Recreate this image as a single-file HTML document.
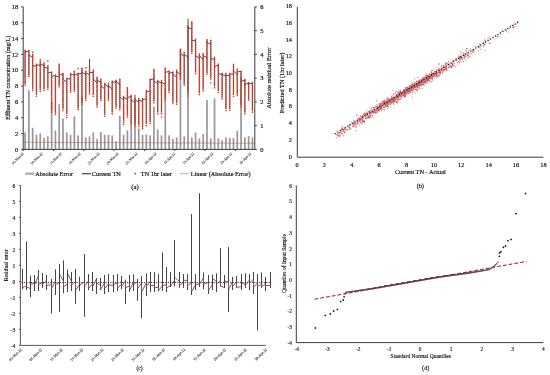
<!DOCTYPE html>
<html lang="en">
<head>
<meta charset="utf-8">
<title>TN prediction figure</title>
<style>
html,body{margin:0;padding:0;background:#fff;}
body{width:550px;height:375px;overflow:hidden;font-family:"Liberation Serif",serif;}
svg{display:block;}
</style>
</head>
<body>
<svg width="550" height="375" viewBox="0 0 550 375">
<rect x="0" y="0" width="550" height="375" fill="#ffffff"/>
<g id="pa">
<rect x="24.24" y="132.4" width="1.7" height="17" fill="#979797"/>
<rect x="28.03" y="90.26" width="1.7" height="59.14" fill="#979797"/>
<rect x="31.82" y="127.8" width="1.7" height="21.6" fill="#979797"/>
<rect x="35.61" y="134.8" width="1.7" height="14.6" fill="#979797"/>
<rect x="39.4" y="133.4" width="1.7" height="16" fill="#979797"/>
<rect x="43.19" y="138" width="1.7" height="11.4" fill="#979797"/>
<rect x="46.98" y="136.4" width="1.7" height="13" fill="#979797"/>
<rect x="50.77" y="101.9" width="1.7" height="47.5" fill="#979797"/>
<rect x="54.56" y="130.4" width="1.7" height="19" fill="#979797"/>
<rect x="58.35" y="104.28" width="1.7" height="45.12" fill="#979797"/>
<rect x="62.13" y="118.53" width="1.7" height="30.88" fill="#979797"/>
<rect x="65.92" y="132.4" width="1.7" height="17" fill="#979797"/>
<rect x="69.71" y="134.8" width="1.7" height="14.6" fill="#979797"/>
<rect x="73.5" y="116.39" width="1.7" height="33.01" fill="#979797"/>
<rect x="77.29" y="135.4" width="1.7" height="14" fill="#979797"/>
<rect x="81.08" y="97.15" width="1.7" height="52.25" fill="#979797"/>
<rect x="84.87" y="137.4" width="1.7" height="12" fill="#979797"/>
<rect x="88.66" y="136.4" width="1.7" height="13" fill="#979797"/>
<rect x="92.45" y="132.4" width="1.7" height="17" fill="#979797"/>
<rect x="96.24" y="138.8" width="1.7" height="10.6" fill="#979797"/>
<rect x="100.02" y="132" width="1.7" height="17.4" fill="#979797"/>
<rect x="103.81" y="134.8" width="1.7" height="14.6" fill="#979797"/>
<rect x="107.6" y="134.8" width="1.7" height="14.6" fill="#979797"/>
<rect x="111.39" y="135.4" width="1.7" height="14" fill="#979797"/>
<rect x="115.18" y="141.4" width="1.7" height="8" fill="#979797"/>
<rect x="118.97" y="115.91" width="1.7" height="33.49" fill="#979797"/>
<rect x="122.76" y="134.8" width="1.7" height="14.6" fill="#979797"/>
<rect x="126.55" y="130.4" width="1.7" height="19" fill="#979797"/>
<rect x="130.34" y="120.9" width="1.7" height="28.5" fill="#979797"/>
<rect x="134.13" y="94.78" width="1.7" height="54.62" fill="#979797"/>
<rect x="137.91" y="128.4" width="1.7" height="21" fill="#979797"/>
<rect x="141.7" y="134.8" width="1.7" height="14.6" fill="#979797"/>
<rect x="145.49" y="134.4" width="1.7" height="15" fill="#979797"/>
<rect x="149.28" y="135.4" width="1.7" height="14" fill="#979797"/>
<rect x="153.07" y="106.65" width="1.7" height="42.75" fill="#979797"/>
<rect x="156.86" y="129.4" width="1.7" height="20" fill="#979797"/>
<rect x="160.65" y="135.4" width="1.7" height="14" fill="#979797"/>
<rect x="164.44" y="87.89" width="1.7" height="61.51" fill="#979797"/>
<rect x="168.23" y="135.4" width="1.7" height="14" fill="#979797"/>
<rect x="172.02" y="138.8" width="1.7" height="10.6" fill="#979797"/>
<rect x="175.8" y="137.4" width="1.7" height="12" fill="#979797"/>
<rect x="179.59" y="49.65" width="1.7" height="99.75" fill="#979797"/>
<rect x="183.38" y="136.4" width="1.7" height="13" fill="#979797"/>
<rect x="187.17" y="18.78" width="1.7" height="130.62" fill="#979797"/>
<rect x="190.96" y="137.4" width="1.7" height="12" fill="#979797"/>
<rect x="194.75" y="132.4" width="1.7" height="17" fill="#979797"/>
<rect x="198.54" y="138.4" width="1.7" height="11" fill="#979797"/>
<rect x="202.33" y="134" width="1.7" height="15.4" fill="#979797"/>
<rect x="206.12" y="100" width="1.7" height="49.4" fill="#979797"/>
<rect x="209.91" y="138.4" width="1.7" height="11" fill="#979797"/>
<rect x="213.69" y="98.57" width="1.7" height="50.83" fill="#979797"/>
<rect x="217.48" y="138.4" width="1.7" height="11" fill="#979797"/>
<rect x="221.27" y="140.4" width="1.7" height="9" fill="#979797"/>
<rect x="225.06" y="137.4" width="1.7" height="12" fill="#979797"/>
<rect x="228.85" y="138" width="1.7" height="11.4" fill="#979797"/>
<rect x="232.64" y="138" width="1.7" height="11.4" fill="#979797"/>
<rect x="236.43" y="130.8" width="1.7" height="18.6" fill="#979797"/>
<rect x="240.22" y="76.73" width="1.7" height="72.67" fill="#979797"/>
<rect x="244.01" y="137.4" width="1.7" height="12" fill="#979797"/>
<rect x="247.8" y="136" width="1.7" height="13.4" fill="#979797"/>
<rect x="251.58" y="137.4" width="1.7" height="12" fill="#979797"/>
<line x1="23.2" y1="142.28" x2="254.8" y2="143.22" stroke="#b5453f" stroke-width="0.45"/>
<path d="M25.09 50.44V83.53M28.88 50.84V75.28M32.67 54.4V88.62M36.46 64.3V94.76M40.25 61.84V90.12M44.04 63.11V89.06M47.83 65.88V88.07M51.62 72.29V110.2M55.41 75.3V112.6M59.2 64.3V85.73M62.98 73.4V108.75M66.77 78.31V113.51M70.56 73.4V91.15M74.35 71.26V90.29M78.14 73.4V108M81.93 68.25V102.47M85.72 71.26V98.86M89.51 59.15V92.64M93.3 70.23V95.05M97.09 77.36V105.19M100.87 79.34V99.27M104.66 83.38V114.51M108.45 83.38V99.47M112.24 81.32V112.15M116.03 80.53V106.85M119.82 79.34V108.29M123.61 96.36V121.18M127.4 87.65V115.48M131.19 95.57V122.19M134.98 98.73V124.3M138.76 98.73V125.06M142.55 98.73V127.31M146.34 90.42V123.89M150.13 79.34V121.38M153.92 69.44V101.03M157.71 80.53V112.11M161.5 80.53V112.11M165.29 68.25V98.71M169.08 71.26V91.34M172.87 72.29V101.92M176.65 70.23V102.57M180.44 49.25V77.46M184.23 52.42V83.63M188.02 25.9V92.46M191.81 21.94V52.03M195.6 39.36V71.7M199.39 54V92.44M203.18 53.61V88.96M206.97 39.75V72.47M210.76 40.55V77.02M214.54 57.57V86.15M218.33 64.3V90.99M222.12 73.4V97.47M225.91 73.4V108.75M229.7 73.4V108.37M233.49 64.38V94.76M237.28 69.44V94.26M241.07 71.42V104.89M244.86 79.42V112.06M248.65 82.42V99.42M252.43 82.42V110.7" stroke="#3c4c74" stroke-width="1.0" fill="none"/>
<path d="M25.09 51.87L28.88 50.84M28.88 55.09L32.67 57.46M32.67 65.98L36.46 65.93M36.46 64.84L40.25 65.42M40.25 64.56L44.04 65.25M44.04 67L47.83 68.46M47.83 72.8L51.62 72.29M51.62 76.7L55.41 75.3M55.41 75.77L59.2 77.12M59.2 74.65L62.98 74.8M62.98 78.84L66.77 82.81M66.77 78.88L70.56 78.8M70.56 74.64L74.35 74.89M74.35 75.43L78.14 73.5M78.14 74.04L81.93 73.19M81.93 72.1L85.72 74.65M85.72 72.9L89.51 74.81M89.51 72.5L93.3 72.62M93.3 78.9L97.09 83.11M97.09 80.52L100.87 81.95M100.87 85.7L104.66 88.99M104.66 83.86L108.45 87.48M108.45 85.47L112.24 89.45M112.24 82.29L116.03 81.77M116.03 81.21L119.82 84.74M119.82 96.99L123.61 99.77M123.61 97.36L127.4 99.24M127.4 97.58L131.19 96.41M131.19 99.49L134.98 103.33M134.98 100.28L138.76 101.79M138.76 100.39L142.55 101.27M142.55 99.87L146.34 98.63M146.34 91.9L150.13 91.07M150.13 79.86L153.92 78.74M153.92 81.04L157.71 83.63M157.71 81.33L161.5 83.05M161.5 82.27L165.29 84.35M165.29 72.5L169.08 71.26M169.08 73.31L172.87 72.29M172.87 73.85L176.65 77.24M176.65 71.53L180.44 74.76M180.44 53.41L184.23 56.3M184.23 54.39L188.02 57.27M188.02 27.68L191.81 28.96M191.81 40.24L195.6 40.86M195.6 55.54L199.39 58.23M199.39 55.44L203.18 59.77M203.18 55.74L206.97 57.44M206.97 42.39L210.76 44.4M210.76 58.53L214.54 59.3M214.54 66.63L218.33 64.95M218.33 74.03L222.12 74.01M222.12 74.62L225.91 75.71M225.91 75.29L229.7 75.74M229.7 74.1L233.49 74.17M233.49 70.81L237.28 74.82M237.28 71.89L241.07 71.42M241.07 81.14L244.86 80.55M244.86 84.33L248.65 83.15M248.65 83.95L252.43 83.26" stroke="#2a3a62" stroke-width="0.9" stroke-linecap="round" fill="none"/>
<path d="M25.09 50.44h0M25.09 52.49h0M25.09 54.54h0M25.09 56.59h0M25.09 58.64h0M25.09 60.69h0M25.09 62.74h0M25.09 64.78h0M25.09 66.83h0M25.09 68.88h0M25.09 70.93h0M25.09 72.98h0M25.09 75.03h0M25.09 77.08h0M25.09 79.13h0M25.09 81.18h0M25.09 83.23h0M25.09 85.28h0M28.88 50.84h0M28.88 52.98h0M28.88 55.13h0M28.88 57.27h0M28.88 59.41h0M28.88 61.56h0M28.88 63.7h0M28.88 65.85h0M28.88 67.99h0M28.88 70.13h0M28.88 72.28h0M28.88 74.42h0M28.88 76.57h0M32.67 54.4h0M32.67 56.4h0M32.67 58.4h0M32.67 60.4h0M32.67 62.4h0M32.67 64.41h0M32.67 66.41h0M32.67 68.41h0M32.67 70.41h0M32.67 72.41h0M32.67 74.41h0M32.67 76.41h0M32.67 78.41h0M32.67 80.42h0M32.67 82.42h0M32.67 84.42h0M32.67 86.42h0M32.67 88.42h0M32.67 90.42h0M32.67 52.2h0M36.46 64.3h0M36.46 66.3h0M36.46 68.3h0M36.46 70.31h0M36.46 72.31h0M36.46 74.32h0M36.46 76.32h0M36.46 78.32h0M36.46 80.33h0M36.46 82.33h0M36.46 84.33h0M36.46 86.34h0M36.46 88.34h0M36.46 90.35h0M36.46 92.35h0M36.46 94.35h0M36.46 96.36h0M40.25 61.84h0M40.25 63.97h0M40.25 66.09h0M40.25 68.22h0M40.25 70.35h0M40.25 72.47h0M40.25 74.6h0M40.25 76.73h0M40.25 78.85h0M40.25 80.98h0M40.25 83.1h0M40.25 85.23h0M40.25 87.36h0M40.25 89.48h0M40.25 91.61h0M40.25 59.84h0M44.04 63.11h0M44.04 65.21h0M44.04 67.31h0M44.04 69.41h0M44.04 71.51h0M44.04 73.61h0M44.04 75.71h0M44.04 77.82h0M44.04 79.92h0M44.04 82.02h0M44.04 84.12h0M44.04 86.22h0M44.04 88.32h0M44.04 90.42h0M47.83 65.88h0M47.83 68h0M47.83 70.13h0M47.83 72.25h0M47.83 74.37h0M47.83 76.49h0M47.83 78.62h0M47.83 80.74h0M47.83 82.86h0M47.83 84.99h0M47.83 87.11h0M47.83 89.23h0M47.83 61.26h0M51.62 72.29h0M51.62 74.39h0M51.62 76.49h0M51.62 78.59h0M51.62 80.69h0M51.62 82.79h0M51.62 84.89h0M51.62 86.99h0M51.62 89.09h0M51.62 91.19h0M51.62 93.29h0M51.62 95.39h0M51.62 97.49h0M51.62 99.59h0M51.62 101.69h0M51.62 103.79h0M51.62 105.89h0M51.62 107.99h0M51.62 110.09h0M51.62 112.19h0M55.41 75.3h0M55.41 77.37h0M55.41 79.43h0M55.41 81.5h0M55.41 83.57h0M55.41 85.63h0M55.41 87.7h0M55.41 89.77h0M55.41 91.83h0M55.41 93.9h0M55.41 95.97h0M55.41 98.03h0M55.41 100.1h0M55.41 102.17h0M55.41 104.23h0M55.41 106.3h0M55.41 108.37h0M55.41 110.43h0M55.41 112.5h0M55.41 114.57h0M59.2 64.3h0M59.2 66.35h0M59.2 68.4h0M59.2 70.45h0M59.2 72.5h0M59.2 74.55h0M59.2 76.6h0M59.2 78.65h0M59.2 80.7h0M59.2 82.76h0M59.2 84.81h0M59.2 86.86h0M62.98 73.4h0M62.98 75.47h0M62.98 77.53h0M62.98 79.6h0M62.98 81.67h0M62.98 83.74h0M62.98 85.8h0M62.98 87.87h0M62.98 89.94h0M62.98 92h0M62.98 94.07h0M62.98 96.14h0M62.98 98.21h0M62.98 100.27h0M62.98 102.34h0M62.98 104.41h0M62.98 106.47h0M62.98 108.54h0M62.98 110.61h0M66.77 78.31h0M66.77 80.37h0M66.77 82.43h0M66.77 84.48h0M66.77 86.54h0M66.77 88.6h0M66.77 90.66h0M66.77 92.72h0M66.77 94.78h0M66.77 96.83h0M66.77 98.89h0M66.77 100.95h0M66.77 103.01h0M66.77 105.07h0M66.77 107.13h0M66.77 109.18h0M66.77 111.24h0M66.77 113.3h0M66.77 115.36h0M66.77 117.56h0M70.56 73.4h0M70.56 75.48h0M70.56 77.55h0M70.56 79.63h0M70.56 81.7h0M70.56 83.78h0M70.56 85.86h0M70.56 87.93h0M70.56 90.01h0M70.56 92.08h0M74.35 71.26h0M74.35 73.27h0M74.35 75.27h0M74.35 77.27h0M74.35 79.27h0M74.35 81.28h0M74.35 83.28h0M74.35 85.28h0M74.35 87.29h0M74.35 89.29h0M74.35 91.29h0M78.14 73.4h0M78.14 75.42h0M78.14 77.45h0M78.14 79.47h0M78.14 81.49h0M78.14 83.52h0M78.14 85.54h0M78.14 87.56h0M78.14 89.59h0M78.14 91.61h0M78.14 93.63h0M78.14 95.65h0M78.14 97.68h0M78.14 99.7h0M78.14 101.72h0M78.14 103.75h0M78.14 105.77h0M78.14 107.79h0M78.14 109.82h0M78.14 68.55h0M81.93 68.25h0M81.93 70.26h0M81.93 72.26h0M81.93 74.26h0M81.93 76.26h0M81.93 78.26h0M81.93 80.26h0M81.93 82.26h0M81.93 84.26h0M81.93 86.26h0M81.93 88.27h0M81.93 90.27h0M81.93 92.27h0M81.93 94.27h0M81.93 96.27h0M81.93 98.27h0M81.93 100.27h0M81.93 102.27h0M81.93 104.28h0M85.72 71.26h0M85.72 73.34h0M85.72 75.41h0M85.72 77.49h0M85.72 79.56h0M85.72 81.64h0M85.72 83.71h0M85.72 85.79h0M85.72 87.86h0M85.72 89.94h0M85.72 92.02h0M85.72 94.09h0M85.72 96.17h0M85.72 98.24h0M85.72 100.32h0M85.72 67.68h0M89.51 67.07h0M89.51 69.14h0M89.51 71.21h0M89.51 73.28h0M89.51 75.35h0M89.51 77.42h0M89.51 79.49h0M89.51 81.56h0M89.51 83.63h0M89.51 85.7h0M89.51 87.77h0M89.51 89.84h0M89.51 91.91h0M89.51 93.98h0M93.3 70.23h0M93.3 72.24h0M93.3 74.25h0M93.3 76.26h0M93.3 78.27h0M93.3 80.28h0M93.3 82.29h0M93.3 84.3h0M93.3 86.31h0M93.3 88.32h0M93.3 90.33h0M93.3 92.34h0M93.3 94.35h0M93.3 96.36h0M97.09 77.36h0M97.09 79.45h0M97.09 81.54h0M97.09 83.64h0M97.09 85.73h0M97.09 87.82h0M97.09 89.91h0M97.09 92h0M97.09 94.1h0M97.09 96.19h0M97.09 98.28h0M97.09 100.37h0M97.09 102.47h0M97.09 104.56h0M97.09 106.65h0M100.87 79.34h0M100.87 81.44h0M100.87 83.53h0M100.87 85.63h0M100.87 87.73h0M100.87 89.83h0M100.87 91.92h0M100.87 94.02h0M100.87 96.12h0M100.87 98.22h0M100.87 100.32h0M104.66 83.38h0M104.66 85.42h0M104.66 87.47h0M104.66 89.52h0M104.66 91.57h0M104.66 93.62h0M104.66 95.67h0M104.66 97.71h0M104.66 99.76h0M104.66 101.81h0M104.66 103.86h0M104.66 105.91h0M104.66 107.96h0M104.66 110h0M104.66 112.05h0M104.66 114.1h0M104.66 116.15h0M108.45 83.38h0M108.45 85.49h0M108.45 87.61h0M108.45 89.73h0M108.45 91.85h0M108.45 93.96h0M108.45 96.08h0M108.45 98.2h0M108.45 100.32h0M112.24 81.32h0M112.24 83.35h0M112.24 85.37h0M112.24 87.4h0M112.24 89.43h0M112.24 91.46h0M112.24 93.49h0M112.24 95.52h0M112.24 97.55h0M112.24 99.57h0M112.24 101.6h0M112.24 103.63h0M112.24 105.66h0M112.24 107.69h0M112.24 109.72h0M112.24 111.75h0M112.24 113.78h0M116.03 80.53h0M116.03 82.66h0M116.03 84.79h0M116.03 86.92h0M116.03 89.05h0M116.03 91.18h0M116.03 93.31h0M116.03 95.44h0M116.03 97.58h0M116.03 99.71h0M116.03 101.84h0M116.03 103.97h0M116.03 106.1h0M116.03 108.23h0M119.82 79.34h0M119.82 81.37h0M119.82 83.4h0M119.82 85.43h0M119.82 87.47h0M119.82 89.5h0M119.82 91.53h0M119.82 93.56h0M119.82 95.59h0M119.82 97.62h0M119.82 99.66h0M119.82 101.69h0M119.82 103.72h0M119.82 105.75h0M119.82 107.78h0M119.82 109.82h0M123.61 96.36h0M123.61 98.37h0M123.61 100.38h0M123.61 102.39h0M123.61 104.4h0M123.61 106.41h0M123.61 108.42h0M123.61 110.43h0M123.61 112.44h0M123.61 114.44h0M123.61 116.45h0M123.61 118.46h0M123.61 120.47h0M123.61 122.48h0M123.61 124.54h0M127.4 87.65h0M127.4 89.74h0M127.4 91.83h0M127.4 93.93h0M127.4 96.02h0M127.4 98.11h0M127.4 100.2h0M127.4 102.3h0M127.4 104.39h0M127.4 106.48h0M127.4 108.57h0M127.4 110.66h0M127.4 112.76h0M127.4 114.85h0M127.4 116.94h0M131.19 95.57h0M131.19 97.57h0M131.19 99.57h0M131.19 101.57h0M131.19 103.57h0M131.19 105.58h0M131.19 107.58h0M131.19 109.58h0M131.19 111.58h0M131.19 113.58h0M131.19 115.58h0M131.19 117.59h0M131.19 119.59h0M131.19 121.59h0M131.19 123.59h0M134.98 98.73h0M134.98 100.8h0M134.98 102.87h0M134.98 104.94h0M134.98 107.02h0M134.98 109.09h0M134.98 111.16h0M134.98 113.23h0M134.98 115.3h0M134.98 117.37h0M134.98 119.44h0M134.98 121.51h0M134.98 123.58h0M134.98 125.65h0M138.76 98.73h0M138.76 100.86h0M138.76 103h0M138.76 105.13h0M138.76 107.26h0M138.76 109.39h0M138.76 111.52h0M138.76 113.65h0M138.76 115.78h0M138.76 117.92h0M138.76 120.05h0M138.76 122.18h0M138.76 124.31h0M138.76 126.44h0M142.55 98.73h0M142.55 100.74h0M142.55 102.74h0M142.55 104.75h0M142.55 106.76h0M142.55 108.76h0M142.55 110.77h0M142.55 112.77h0M142.55 114.78h0M142.55 116.78h0M142.55 118.79h0M142.55 120.79h0M142.55 122.8h0M142.55 124.81h0M142.55 126.81h0M142.55 128.82h0M146.34 90.42h0M146.34 92.49h0M146.34 94.57h0M146.34 96.64h0M146.34 98.71h0M146.34 100.78h0M146.34 102.85h0M146.34 104.93h0M146.34 107h0M146.34 109.07h0M146.34 111.14h0M146.34 113.22h0M146.34 115.29h0M146.34 117.36h0M146.34 119.43h0M146.34 121.51h0M146.34 123.58h0M146.34 125.65h0M150.13 79.34h0M150.13 81.35h0M150.13 83.36h0M150.13 85.37h0M150.13 87.38h0M150.13 89.4h0M150.13 91.41h0M150.13 93.42h0M150.13 95.43h0M150.13 97.44h0M150.13 99.45h0M150.13 101.46h0M150.13 103.48h0M150.13 105.49h0M150.13 107.5h0M150.13 109.51h0M150.13 111.52h0M150.13 113.53h0M150.13 115.55h0M150.13 117.56h0M150.13 119.57h0M150.13 121.58h0M150.13 123.59h0M153.92 69.44h0M153.92 71.52h0M153.92 73.6h0M153.92 75.68h0M153.92 77.75h0M153.92 79.83h0M153.92 81.91h0M153.92 83.99h0M153.92 86.07h0M153.92 88.14h0M153.92 90.22h0M153.92 92.3h0M153.92 94.38h0M153.92 96.46h0M153.92 98.54h0M153.92 100.61h0M153.92 102.69h0M157.71 80.53h0M157.71 82.6h0M157.71 84.68h0M157.71 86.76h0M157.71 88.84h0M157.71 90.92h0M157.71 92.99h0M157.71 95.07h0M157.71 97.15h0M157.71 99.23h0M157.71 101.31h0M157.71 103.38h0M157.71 105.46h0M157.71 107.54h0M157.71 109.62h0M157.71 111.7h0M157.71 113.78h0M161.5 80.53h0M161.5 82.6h0M161.5 84.68h0M161.5 86.76h0M161.5 88.84h0M161.5 90.92h0M161.5 92.99h0M161.5 95.07h0M161.5 97.15h0M161.5 99.23h0M161.5 101.31h0M161.5 103.38h0M161.5 105.46h0M161.5 107.54h0M161.5 109.62h0M161.5 111.7h0M161.5 113.78h0M161.5 117.1h0M165.29 68.25h0M165.29 70.26h0M165.29 72.26h0M165.29 74.27h0M165.29 76.27h0M165.29 78.27h0M165.29 80.28h0M165.29 82.28h0M165.29 84.29h0M165.29 86.29h0M165.29 88.29h0M165.29 90.3h0M165.29 92.3h0M165.29 94.3h0M165.29 96.31h0M165.29 98.31h0M165.29 100.32h0M169.08 71.26h0M169.08 73.38h0M169.08 75.49h0M169.08 77.6h0M169.08 79.72h0M169.08 81.83h0M169.08 83.95h0M169.08 86.06h0M169.08 88.17h0M169.08 90.29h0M169.08 92.4h0M172.87 72.29h0M172.87 74.37h0M172.87 76.45h0M172.87 78.53h0M172.87 80.61h0M172.87 82.69h0M172.87 84.77h0M172.87 86.85h0M172.87 88.93h0M172.87 91.01h0M172.87 93.09h0M172.87 95.17h0M172.87 97.25h0M172.87 99.32h0M172.87 101.4h0M172.87 103.48h0M176.65 70.23h0M176.65 72.24h0M176.65 74.24h0M176.65 76.24h0M176.65 78.24h0M176.65 80.25h0M176.65 82.25h0M176.65 84.25h0M176.65 86.25h0M176.65 88.26h0M176.65 90.26h0M176.65 92.26h0M176.65 94.26h0M176.65 96.27h0M176.65 98.27h0M176.65 100.27h0M176.65 102.27h0M176.65 104.28h0M180.44 49.25h0M180.44 51.37h0M180.44 53.5h0M180.44 55.62h0M180.44 57.74h0M180.44 59.86h0M180.44 61.98h0M180.44 64.1h0M180.44 66.22h0M180.44 68.34h0M180.44 70.46h0M180.44 72.58h0M180.44 74.7h0M180.44 76.82h0M180.44 78.94h0M184.23 52.42h0M184.23 54.47h0M184.23 56.53h0M184.23 58.58h0M184.23 60.63h0M184.23 62.69h0M184.23 64.74h0M184.23 66.79h0M184.23 68.85h0M184.23 70.9h0M184.23 72.95h0M184.23 75.01h0M184.23 77.06h0M184.23 79.11h0M184.23 81.17h0M184.23 83.22h0M184.23 85.28h0M188.02 25.9h0M188.02 28.82h0M188.02 31.74h0M188.02 34.66h0M188.02 37.58h0M188.02 40.5h0M188.02 43.42h0M188.02 46.33h0M188.02 49.25h0M188.02 52.17h0M188.02 55.09h0M188.02 58.01h0M188.02 60.93h0M188.02 63.85h0M188.02 66.77h0M188.02 69.69h0M188.02 72.61h0M188.02 75.53h0M188.02 78.45h0M188.02 81.37h0M188.02 84.29h0M188.02 87.2h0M188.02 90.12h0M188.02 93.04h0M188.02 95.96h0M191.81 21.94h0M191.81 24.05h0M191.81 26.16h0M191.81 28.28h0M191.81 30.39h0M191.81 32.5h0M191.81 34.61h0M191.81 36.72h0M191.81 38.83h0M191.81 40.94h0M191.81 43.05h0M191.81 45.16h0M191.81 47.28h0M191.81 49.39h0M191.81 51.5h0M191.81 53.61h0M195.6 39.36h0M195.6 41.36h0M195.6 43.36h0M195.6 45.37h0M195.6 47.37h0M195.6 49.37h0M195.6 51.37h0M195.6 53.38h0M195.6 55.38h0M195.6 57.38h0M195.6 59.38h0M195.6 61.39h0M195.6 63.39h0M195.6 65.39h0M195.6 67.39h0M195.6 69.4h0M195.6 71.4h0M195.6 73.4h0M199.39 54h0M199.39 56.03h0M199.39 58.05h0M199.39 60.07h0M199.39 62.1h0M199.39 64.12h0M199.39 66.14h0M199.39 68.16h0M199.39 70.19h0M199.39 72.21h0M199.39 74.23h0M199.39 76.25h0M199.39 78.28h0M199.39 80.3h0M199.39 82.32h0M199.39 84.34h0M199.39 86.37h0M199.39 88.39h0M199.39 90.41h0M199.39 92.44h0M199.39 94.46h0M203.18 53.61h0M203.18 55.68h0M203.18 57.74h0M203.18 59.81h0M203.18 61.88h0M203.18 63.94h0M203.18 66.01h0M203.18 68.08h0M203.18 70.15h0M203.18 72.21h0M203.18 74.28h0M203.18 76.35h0M203.18 78.41h0M203.18 80.48h0M203.18 82.55h0M203.18 84.62h0M203.18 86.68h0M203.18 88.75h0M203.18 90.82h0M206.97 39.75h0M206.97 41.78h0M206.97 43.81h0M206.97 45.83h0M206.97 47.86h0M206.97 49.88h0M206.97 51.91h0M206.97 53.93h0M206.97 55.96h0M206.97 57.99h0M206.97 60.01h0M206.97 62.04h0M206.97 64.06h0M206.97 66.09h0M206.97 68.11h0M206.97 70.14h0M206.97 72.17h0M206.97 74.19h0M210.76 40.55h0M210.76 42.57h0M210.76 44.59h0M210.76 46.61h0M210.76 48.63h0M210.76 50.65h0M210.76 52.67h0M210.76 54.69h0M210.76 56.71h0M210.76 58.73h0M210.76 60.75h0M210.76 62.78h0M210.76 64.8h0M210.76 66.82h0M210.76 68.84h0M210.76 70.86h0M210.76 72.88h0M210.76 74.9h0M210.76 76.92h0M210.76 78.94h0M210.76 82.88h0M214.54 57.57h0M214.54 59.57h0M214.54 61.58h0M214.54 63.58h0M214.54 65.59h0M214.54 67.59h0M214.54 69.6h0M214.54 71.61h0M214.54 73.61h0M214.54 75.62h0M214.54 77.62h0M214.54 79.63h0M214.54 81.63h0M214.54 83.64h0M214.54 85.64h0M214.54 87.65h0M218.33 64.3h0M218.33 66.3h0M218.33 68.31h0M218.33 70.32h0M218.33 72.33h0M218.33 74.33h0M218.33 76.34h0M218.33 78.35h0M218.33 80.36h0M218.33 82.36h0M218.33 84.37h0M218.33 86.38h0M218.33 88.39h0M218.33 90.39h0M218.33 92.4h0M222.12 73.4h0M222.12 75.51h0M222.12 77.62h0M222.12 79.73h0M222.12 81.84h0M222.12 83.96h0M222.12 86.07h0M222.12 88.18h0M222.12 90.29h0M222.12 92.4h0M222.12 94.51h0M222.12 96.62h0M222.12 98.73h0M225.91 73.4h0M225.91 75.47h0M225.91 77.53h0M225.91 79.6h0M225.91 81.67h0M225.91 83.74h0M225.91 85.8h0M225.91 87.87h0M225.91 89.94h0M225.91 92h0M225.91 94.07h0M225.91 96.14h0M225.91 98.21h0M225.91 100.27h0M225.91 102.34h0M225.91 104.41h0M225.91 106.47h0M225.91 108.54h0M225.91 110.61h0M229.7 73.4h0M229.7 75.45h0M229.7 77.49h0M229.7 79.54h0M229.7 81.58h0M229.7 83.63h0M229.7 85.67h0M229.7 87.72h0M229.7 89.76h0M229.7 91.81h0M229.7 93.85h0M229.7 95.9h0M229.7 97.94h0M229.7 99.99h0M229.7 102.03h0M229.7 104.08h0M229.7 106.12h0M229.7 108.17h0M229.7 110.21h0M233.49 64.38h0M233.49 66.51h0M233.49 68.64h0M233.49 70.77h0M233.49 72.9h0M233.49 75.04h0M233.49 77.17h0M233.49 79.3h0M233.49 81.43h0M233.49 83.57h0M233.49 85.7h0M233.49 87.83h0M233.49 89.96h0M233.49 92.09h0M233.49 94.23h0M233.49 96.36h0M237.28 69.44h0M237.28 71.45h0M237.28 73.46h0M237.28 75.47h0M237.28 77.48h0M237.28 79.49h0M237.28 81.5h0M237.28 83.51h0M237.28 85.52h0M237.28 87.53h0M237.28 89.54h0M237.28 91.55h0M237.28 93.56h0M237.28 95.57h0M241.07 71.42h0M241.07 73.49h0M241.07 75.57h0M241.07 77.64h0M241.07 79.71h0M241.07 81.78h0M241.07 83.85h0M241.07 85.93h0M241.07 88h0M241.07 90.07h0M241.07 92.14h0M241.07 94.22h0M241.07 96.29h0M241.07 98.36h0M241.07 100.43h0M241.07 102.51h0M241.07 104.58h0M241.07 106.65h0M244.86 79.42h0M244.86 81.44h0M244.86 83.46h0M244.86 85.48h0M244.86 87.5h0M244.86 89.52h0M244.86 91.54h0M244.86 93.56h0M244.86 95.59h0M244.86 97.61h0M244.86 99.63h0M244.86 101.65h0M244.86 103.67h0M244.86 105.69h0M244.86 107.71h0M244.86 109.73h0M244.86 111.75h0M244.86 113.78h0M248.65 82.42h0M248.65 84.66h0M248.65 86.9h0M248.65 89.13h0M248.65 91.37h0M248.65 93.61h0M248.65 95.84h0M248.65 98.08h0M248.65 100.32h0M252.43 82.42h0M252.43 84.55h0M252.43 86.68h0M252.43 88.8h0M252.43 90.93h0M252.43 93.06h0M252.43 95.18h0M252.43 97.31h0M252.43 99.43h0M252.43 101.56h0M252.43 103.69h0M252.43 105.81h0M252.43 107.94h0M252.43 110.07h0M252.43 112.19h0" stroke="#e43c17" stroke-width="1.45" stroke-linecap="square" fill="none"/>
<g stroke="#3a3a3a" stroke-width="1.0" fill="none">
<path d="M23.2 6.9V149.4H254.8V6.9"/>
<path d="M23.2 149.4h-2M23.2 133.57h-2M23.2 117.73h-2M23.2 101.9h-2M23.2 86.07h-2M23.2 70.23h-2M23.2 54.4h-2M23.2 38.57h-2M23.2 22.73h-2M23.2 6.9h-2M254.8 149.4h2M254.8 125.65h2M254.8 101.9h2M254.8 78.15h2M254.8 54.4h2M254.8 30.65h2M254.8 6.9h2M23.2 149.4v1.6M53.51 149.4v1.6M83.82 149.4v1.6M114.14 149.4v1.6M144.45 149.4v1.6M174.76 149.4v1.6M205.07 149.4v1.6M235.38 149.4v1.6"/>
</g>
<g font-family='"Liberation Serif", serif' font-size="6.5" fill="#111111" stroke="#111111" stroke-width="0.18">
<text x="18.2" y="151.5" text-anchor="end">0</text>
<text x="18.2" y="135.67" text-anchor="end">2</text>
<text x="18.2" y="119.83" text-anchor="end">4</text>
<text x="18.2" y="104" text-anchor="end">6</text>
<text x="18.2" y="88.17" text-anchor="end">8</text>
<text x="18.2" y="72.33" text-anchor="end">10</text>
<text x="18.2" y="56.5" text-anchor="end">12</text>
<text x="18.2" y="40.67" text-anchor="end">14</text>
<text x="18.2" y="24.83" text-anchor="end">16</text>
<text x="18.2" y="9" text-anchor="end">18</text>
<text x="260.2" y="151.5">0</text>
<text x="260.2" y="127.75">1</text>
<text x="260.2" y="104">2</text>
<text x="260.2" y="80.25">3</text>
<text x="260.2" y="56.5">4</text>
<text x="260.2" y="32.75">5</text>
<text x="260.2" y="9">6</text>
<text transform="translate(9.8,77.75) rotate(-90)" text-anchor="middle" font-size="6.2">Effluent TN concentration (mg/L)</text>
<text transform="translate(270.7,78.15) rotate(-90)" text-anchor="middle">Absolute residual Error</text>
</g>
<g font-family='"Liberation Serif", serif' font-size="3.6" fill="#2b2b2b" stroke="#2b2b2b" stroke-width="0.08">
<text transform="translate(24.09,153.8) rotate(-45)" text-anchor="end">01-Mar-22</text>
<text transform="translate(43.04,153.8) rotate(-45)" text-anchor="end">06-Mar-22</text>
<text transform="translate(61.98,153.8) rotate(-45)" text-anchor="end">11-Mar-22</text>
<text transform="translate(80.93,153.8) rotate(-45)" text-anchor="end">16-Mar-22</text>
<text transform="translate(99.87,153.8) rotate(-45)" text-anchor="end">21-Mar-22</text>
<text transform="translate(118.82,153.8) rotate(-45)" text-anchor="end">26-Mar-22</text>
<text transform="translate(137.76,153.8) rotate(-45)" text-anchor="end">31-Mar-22</text>
<text transform="translate(156.71,153.8) rotate(-45)" text-anchor="end">05-Apr-22</text>
<text transform="translate(175.65,153.8) rotate(-45)" text-anchor="end">10-Apr-22</text>
<text transform="translate(194.6,153.8) rotate(-45)" text-anchor="end">15-Apr-22</text>
<text transform="translate(213.54,153.8) rotate(-45)" text-anchor="end">20-Apr-22</text>
<text transform="translate(232.49,153.8) rotate(-45)" text-anchor="end">25-Apr-22</text>
<text transform="translate(251.43,153.8) rotate(-45)" text-anchor="end">30-Apr-22</text>
</g>
<g font-family='"Liberation Serif", serif' font-size="6.3" fill="#111111" stroke="#111111" stroke-width="0.18">
<rect x="25.2" y="172.6" width="9" height="2.2" fill="#a9a9a9" stroke="none"/>
<text x="35.3" y="175.6">Absolute Error</text>
<line x1="82" y1="173.7" x2="91" y2="173.7" stroke="#34466e" stroke-width="1.2"/>
<text x="91.8" y="175.6">Current TN</text>
<circle cx="135.2" cy="173.7" r="0.9" fill="#cc3a1a" stroke="none"/>
<text x="140.8" y="175.6">TN 1hr later</text>
<line x1="179.8" y1="173.7" x2="190" y2="173.7" stroke="#c0504d" stroke-width="0.8" stroke-dasharray="0.8 0.45"/>
<text x="190.7" y="175.6">Linear (Absolute Error)</text>
<text x="135" y="188.7" text-anchor="middle" font-size="6.8">(a)</text>
</g>
</g>
<g id="pb">
<path d="M405.43 90.43h0M407.66 87.37h0M411.19 87.99h0M410.63 88.19h0M412.34 87.39h0M414.8 87.47h0M417.82 77.63h0M419.43 81.94h0M420.89 82.05h0M428.46 80.2h0M430.16 76.85h0M435.31 73.07h0M437.45 76.65h0M443.82 70.11h0M448.29 67.63h0M450.9 65.5h0M453.92 65.92h0M457.98 64.23h0M460.76 51.36h0M467.21 55.73h0M462.98 52.82h0M466.87 57.26h0M468.11 57.65h0M463.59 61.67h0M420.29 83.69h0M424.13 82.21h0M421.3 82.28h0M424.69 79h0M425.38 79.9h0M425.82 79.8h0M427.71 77.36h0M431.87 70.63h0M437.92 67.85h0M436.59 69.95h0M444.16 67.16h0M440.23 72.99h0M446.54 67.49h0M452.33 66.1h0M456.32 59.89h0M454.04 60.78h0M458.69 61.46h0M461.16 53.5h0M461.69 58.37h0M464.47 57.27h0M465.63 59.76h0M467.4 48.92h0M465.48 54.69h0M464.28 56.5h0M399.93 94.54h0M398.56 98.02h0M399.5 94.57h0M398.61 93.85h0M406.16 89.81h0M409.29 86.05h0M410.28 90.99h0M411.87 89.64h0M417.78 83.26h0M419.09 86.34h0M417.59 84.63h0M428.5 78.59h0M432.85 75.59h0M435.4 73.62h0M438.31 70.2h0M445.48 63.58h0M447.36 63.62h0M452.53 63.11h0M452.91 61.13h0M459.72 62.94h0M461.28 53.62h0M460.43 56.66h0M460.61 58.72h0M461.41 57.89h0M387.31 102.96h0M391.48 96.26h0M389 98.89h0M390.95 100.39h0M396.35 94.99h0M394.59 101.13h0M398.47 96.36h0M400.28 93.92h0M403.63 91.24h0M407.73 88.15h0M411.09 90.26h0M412.94 85.81h0M419.8 82.8h0M423.64 82.82h0M428.94 75.91h0M427.18 83.33h0M432.36 70.42h0M436.52 74.33h0M440.27 71.5h0M438.82 64.65h0M441.59 65.29h0M442.28 67.74h0M446.83 71.03h0M445.26 68.41h0M396.22 99.14h0M397.53 99.1h0M400.58 95.17h0M397.96 94.26h0M400.95 92.56h0M401.89 95.31h0M405.57 92.09h0M407.22 91.21h0M412.29 86.09h0M412.33 90.65h0M416.04 86.83h0M423.12 83.05h0M425.87 81.09h0M427.18 77.16h0M433.01 74.02h0M436.33 74.34h0M437.58 73.4h0M441.22 66.37h0M442.98 66.95h0M445.21 66.81h0M446.8 63.12h0M449.14 66.19h0M446.99 69.84h0M451.66 66.65h0M398.38 96.05h0M401.54 96.83h0M400.69 94.65h0M402.64 93.76h0M403.97 94.9h0M404.46 93.52h0M409.8 91.62h0M409.3 88.81h0M410.47 90.32h0M414.27 85.2h0M413.06 86.49h0M421.74 80.2h0M427.19 76.89h0M429.75 78.04h0M428.32 78.3h0M434.45 76.64h0M437.25 73.55h0M436.94 75.4h0M437.78 72.48h0M442.64 72.47h0M446.12 62.69h0M445.13 70.06h0M447.58 64.53h0M443.41 71.68h0M399.66 94.26h0M399.65 94.49h0M401.39 92.64h0M403.27 90.5h0M404.51 94.58h0M406.14 90.44h0M407.35 89.18h0M408.01 92.43h0M412.38 89.9h0M415.2 89.32h0M419.37 84h0M416.36 81.16h0M421.8 84.78h0M423.87 80.63h0M428.07 80.17h0M432.22 76.62h0M431.71 74.77h0M435.31 72.88h0M435.38 73.32h0M439.01 71.3h0M445.1 66.86h0M439.36 69.67h0M439.76 73.09h0M440.97 69.55h0M363.06 121.03h0M361.28 118.09h0M362.56 120.35h0M364.27 112.93h0M364.65 122.63h0M370.65 113.16h0M370.91 114.82h0M375.92 105.69h0M379.76 108.46h0M384.28 103.68h0M388.74 104.25h0M394.37 99.12h0M397.7 97.62h0M403.21 91.9h0M409.12 90.71h0M411.95 89.7h0M416.02 84.85h0M422.09 82.76h0M419.23 85.67h0M424.68 77.29h0M425.69 81.17h0M426.33 79.22h0M431.49 73.6h0M428.92 79.35h0M354.5 122.75h0M362.82 119.11h0M360.44 122.26h0M362.7 116.17h0M361.79 116.98h0M364.36 113.36h0M370.22 115.3h0M367.88 113.04h0M373.23 109.16h0M377.41 106.48h0M384.7 101.22h0M387.82 108.28h0M391.09 103.65h0M397.72 97.14h0M404.44 94.13h0M403.6 89.29h0M412.01 84.6h0M411.94 87.15h0M419.95 81.78h0M418.25 85.01h0M421.8 83.01h0M422.48 84.65h0M425.89 78.07h0M425.34 79.92h0M404.52 91.81h0M406.07 88.46h0M407.21 88.25h0M404.5 93.24h0M405.98 93.69h0M407.45 88.44h0M410.33 89.7h0M411.24 90.08h0M419.34 85.21h0M418.19 83.07h0M420.65 83.14h0M420.89 82.68h0M423.04 78.34h0M427.96 76.2h0M434.25 73.56h0M434.98 74.79h0M435.89 76.57h0M438.77 69.65h0M439.46 71.99h0M444.62 70.09h0M443.48 65.13h0M446.67 68.81h0M446.34 68.42h0M443.79 69.5h0M362.34 117.4h0M365.95 117.34h0M363.85 117.27h0M363.53 117.53h0M366.57 115.75h0M369.32 111.28h0M375.31 110.72h0M378.24 108.78h0M381.36 106.65h0M388.86 102.99h0M388.81 102.22h0M396.55 101.57h0M399.16 92.81h0M402.85 97.73h0M406.66 91.82h0M414.09 85.35h0M413.7 89.76h0M415.32 82.76h0M420.57 81.18h0M426.12 82.48h0M423.51 79.84h0M427.73 76.72h0M431.31 81.71h0M431.36 74.02h0M357.64 121.59h0M361.55 119.25h0M357.41 122.4h0M358.36 117.86h0M356.85 124.18h0M364.02 121.16h0M368.23 116.77h0M368.98 115.18h0M372.99 106.98h0M378.57 109.18h0M382.71 105.46h0M385.23 104.95h0M389.09 99.4h0M393.86 99.71h0M393.61 97.68h0M401.87 93.82h0M408.92 91.84h0M412.57 85.41h0M408.46 88.99h0M415.03 85.12h0M416.84 84.97h0M417.31 83.66h0M421.52 81.66h0M418.51 81.03h0M396.28 98.22h0M396.29 97h0M394.46 98.54h0M397.56 97.81h0M398.1 97.45h0M400.8 93.86h0M400.24 94.94h0M404.43 95.67h0M404.89 93.1h0M406.75 88.7h0M408.99 91.76h0M407.23 88.97h0M416.78 81.74h0M418.76 82.22h0M416.65 83.55h0M415.39 86.65h0M421.08 82.99h0M425.21 80.63h0M418.9 85.23h0M430.75 76.12h0M425.43 79.41h0M426.78 79.74h0M426.78 75.56h0M429.13 78.97h0M398.38 100h0M397.92 101.06h0M398.97 95.89h0M397.46 97.73h0M401.43 96.38h0M400.75 92.6h0M402.73 95.77h0M407.25 91.36h0M407.56 90.97h0M410.84 87.69h0M415.37 86.07h0M412.45 87.23h0M417.07 85.66h0M415.63 87.27h0M424.77 85.68h0M420.23 83.88h0M421.66 79.31h0M425.62 82.39h0M431.4 74.79h0M430.61 80.95h0M427.41 78.69h0M432.51 78.08h0M430.91 74.47h0M430.78 75.69h0M369.92 113.71h0M367.16 110.72h0M368.23 116.64h0M369.72 113.5h0M369.07 113.59h0M373.94 109.33h0M375.05 111.31h0M373.17 117.55h0M382.25 109.26h0M389.38 99.33h0M389.7 100.42h0M397.27 95.97h0M398.1 94.84h0M404.1 96.31h0M408.21 92.92h0M412.61 88.27h0M417.08 85.34h0M417.08 83.75h0M422.19 79.1h0M428.22 79.75h0M428.05 74.79h0M427.2 76.46h0M428.98 76.73h0M429.45 78.68h0M376.61 110.54h0M376.33 108.95h0M377.46 109.06h0M378.43 107.69h0M379.42 106.72h0M384.67 107.47h0M387.51 103.55h0M385.99 103.85h0M390.03 103.03h0M396.85 96.26h0M397.86 102.66h0M403.74 92.73h0M407.91 90.17h0M413.13 85.59h0M415.67 84.79h0M425.8 78.9h0M425.84 77.47h0M429.15 78.24h0M427.52 78.15h0M429.8 76.58h0M435.08 75.19h0M437.75 73.76h0M437.04 69.78h0M439.39 68.91h0M377.07 106.54h0M383.8 104.02h0M385.23 103.94h0M380.56 105.37h0M386.05 103.53h0M387.58 106.01h0M388.75 99.59h0M388.28 98.62h0M392.74 100.05h0M399.03 93.82h0M403.93 94.85h0M405.28 93.42h0M412.14 90.32h0M410.4 85.86h0M418.78 83.91h0M414.21 84.05h0M421.49 82.8h0M425.12 80.3h0M427.89 79.11h0M430.51 76.04h0M428 78.22h0M426.72 80.56h0M431.35 72.52h0M429.19 77.53h0M393.03 97.89h0M390.78 99.04h0M393.13 100.5h0M394.56 98.53h0M396.51 96.06h0M396.58 91.54h0M402.8 93.59h0M401.25 93.61h0M405.03 92.36h0M409.31 89.29h0M411.33 90.66h0M417.43 90.55h0M417.36 89.92h0M419.88 80.15h0M426.15 79.04h0M427.87 78.23h0M427.75 79.5h0M430.96 75.17h0M434.6 73.52h0M438.72 72h0M439.17 63.54h0M438.62 70.05h0M434.12 76.56h0M440.63 70.54h0M386.1 105.89h0M385.57 104.89h0M388.07 104.27h0M390.82 101.27h0M392.1 95.12h0M399 95.6h0M395.39 96.8h0M396.59 96.65h0M403.3 94.74h0M404.07 90.5h0M405.73 95.94h0M407.85 89.95h0M412.7 88.52h0M418.94 82.77h0M420.18 85.5h0M421.03 83.23h0M426.15 81.59h0M427.12 79.6h0M426.09 81.26h0M432.09 75.97h0M433.19 74.69h0M436.53 73.31h0M433.51 76.56h0M431.46 78.96h0M372.43 115.55h0M376.38 110.15h0M370.42 112.97h0M376.54 112.31h0M374.78 108.91h0M378.04 107.32h0M379.07 108.64h0M379.93 107.86h0M386.89 102.45h0M387.05 104.1h0M391.65 102.74h0M395.86 97.15h0M395.34 100.49h0M402.91 92.47h0M405.82 92.2h0M407.53 90.25h0M409.73 88.11h0M414.41 85.35h0M417.01 84.79h0M417.7 87.33h0M420.16 79.68h0M420.86 81.33h0M417.89 83.43h0M424.3 77.98h0M384.35 104.88h0M379.81 105.71h0M387.3 105.18h0M383.3 102.68h0M383.88 108.05h0M387.09 105.2h0M390.76 101.35h0M388.22 101.92h0M394.64 99.91h0M394.54 100.8h0M394.88 98.81h0M400.14 96.04h0M400.63 91.4h0M404.79 96.64h0M407.75 88.92h0M408.38 89.54h0M407.42 91.35h0M416.51 84.32h0M417.86 86.84h0M419.22 82.83h0M417.16 85.83h0M419.33 82.25h0M419.64 88.65h0M414.71 86.76h0M353.9 125.13h0M355.03 123.66h0M353.59 122.55h0M357.17 120.16h0M359.79 121.24h0M360.2 120.39h0M360.61 119.31h0M369.79 111.77h0M371.87 111.14h0M373.74 110.81h0M378.39 109.42h0M377.65 109.4h0M385.29 102.16h0M388.73 106.56h0M396.58 96.87h0M397.63 97.29h0M399.02 91.09h0M405.57 96.61h0M406.31 94.8h0M405.93 92.83h0M408.1 88.14h0M415.23 86.19h0M409.71 88.48h0M410.09 91.13h0M381.5 107.91h0M380.26 105.25h0M382.39 103.77h0M383.26 102.82h0M384.17 100.17h0M380.58 106.46h0M383.24 104.62h0M384.4 102.85h0M391.26 98.84h0M391.84 99.45h0M388.45 100.08h0M396.32 102.3h0M399.46 99.52h0M398.92 95.58h0M401.41 93.35h0M405.43 90.45h0M400.26 94.33h0M406.71 91.73h0M409.39 89.69h0M412.41 88.43h0M409.68 91.86h0M406.81 93.4h0M411.43 87.96h0M408.39 90.26h0M357.75 121.37h0M360.45 116.11h0M357.32 121.25h0M363.66 116.24h0M363.88 120.22h0M365.54 116.22h0M367.54 114.29h0M368.93 111.41h0M374.25 111.82h0M377.48 107.9h0M379.23 105.37h0M384.16 109.54h0M392.8 101.63h0M391.84 101.48h0M397.67 93.95h0M399.45 96.22h0M403.64 93.05h0M406.28 87.08h0M405.2 96.96h0M410.67 88.48h0M410.98 87.59h0M414.17 89.86h0M411.99 90.37h0M416.15 88.88h0M366.62 113.12h0M365.38 115.76h0M370.81 115.38h0M367.68 117.83h0M374.52 107.4h0M376.27 110.48h0M375.07 112.83h0M380.88 102.82h0M378.77 107.08h0M386.52 102.67h0M387.75 98.01h0M391.97 97.53h0M393.81 99.72h0M398.2 96.37h0M402.17 93.9h0M401.36 94.39h0M405 90.07h0M410.32 92.62h0M413.16 83.57h0M412.49 92.92h0M414.55 84.4h0M418.91 87.04h0M412.27 88.2h0M410.92 84.55h0M367.31 113.93h0M367.09 112.75h0M368.08 117.24h0M364.06 112.95h0M369.79 115.24h0M371.05 115.97h0M373.53 109.15h0M377.6 111.17h0M381.72 107.01h0M388.1 106.7h0M382.33 102.04h0M387.63 106.51h0M390.73 102.78h0M400.12 94.18h0M399.11 96.69h0M404.42 93.17h0M407.85 88.31h0M404.9 90.83h0M414.41 86.95h0M416.02 87.2h0M414.92 84.75h0M416.19 89.43h0M417.13 83.45h0M418.98 83.53h0M343.99 132.75h0M345.26 132.68h0M341.96 127.68h0M343.67 130.33h0M346.92 129.01h0M348.91 127.26h0M349.27 125.19h0M355.84 126.19h0M356.44 120.19h0M360.2 122.24h0M362.59 121h0M368.09 116.16h0M366.96 113.77h0M370.5 116.09h0M375.35 110.88h0M377.75 106.69h0M376.37 108.75h0M380.64 109.44h0M384.68 102.88h0M386.09 101.74h0M386.14 100.93h0M385.89 104h0M388.14 106.62h0M390.44 101.93h0M354.83 126.32h0M352.85 124.83h0M352.3 123.4h0M354.44 122.91h0M353.26 126.35h0M360.86 116.35h0M363.12 118.02h0M363.8 121.5h0M367.88 116.45h0M373.1 113.17h0M373.36 113.09h0M376.93 108.23h0M381.93 102.06h0M382.35 103.34h0M387.83 102.16h0M388.2 104.37h0M394.74 99.58h0M394.2 94.68h0M398.28 96.37h0M400.39 96.17h0M398.89 95.72h0M401.9 94.85h0M404.29 91.38h0M403.3 95.61h0M340.2 132.86h0M340.48 135.69h0M341.37 133.17h0M343.6 131.08h0M344.64 128.97h0M349.5 129.45h0M350.2 124.63h0M351.44 122.76h0M351 128.73h0M357.96 117.55h0M362.26 116.42h0M363.92 114.36h0M370.95 117.26h0M374.3 110.38h0M376.3 106.22h0M376.64 110.86h0M384.25 110.08h0M383.94 103.37h0M381.26 110.64h0M389.44 101.87h0M385.29 103.97h0M386.56 101.27h0M391.78 102.01h0M393.13 102.6h0M338.43 133.43h0M340.34 130.13h0M341.13 130.2h0M338.42 136.06h0M342.04 134.12h0M344.6 132.07h0M343.45 130.14h0M349.38 127.7h0M349.85 128.88h0M354.25 123.24h0M356.66 115.57h0M363.05 120.6h0M363.4 120.67h0M365.71 115.75h0M365.94 116.13h0M370.72 110.35h0M378.56 109.66h0M378.15 108.51h0M381.44 107.58h0M383.09 104.11h0M379.94 105.14h0M382.85 101.27h0M383.65 105.12h0M386.62 106.72h0M336.24 137.39h0M337.21 134.74h0M336.38 134.87h0M339.35 134.27h0M339.77 132.59h0M342.24 128.52h0M342.56 131.54h0M345.22 128.83h0M349.95 127.28h0M356.1 127.44h0M356.21 126.34h0M356.79 123.18h0M363.28 120.83h0M367.63 118.22h0M369.52 118.06h0M372.35 112.35h0M373.65 111.96h0M377.38 106.74h0M376.94 104.45h0M382 107.35h0M385.45 102.46h0M384.46 101.21h0M387.29 104.54h0M386.26 99.28h0M336.96 130.84h0M339.18 136.59h0M339.67 132.19h0M339.4 135.79h0M338.59 135.52h0M341.92 129.45h0M343.5 135.68h0M346.66 129.79h0M349.97 125.11h0M349.81 126.12h0M353.84 120.4h0M355.59 124.19h0M362.75 121.51h0M363.62 114.37h0M371.71 112.04h0M369.34 116.91h0M375.44 112.06h0M379.47 107.38h0M379.46 107.58h0M380.5 103.73h0M380.41 107.81h0M386.42 104.25h0M386.74 101.12h0M388.28 100.48h0M337.48 135.19h0M342.08 128.94h0M340.7 132.17h0M342.49 126.62h0M343.73 131.13h0M344.22 131.27h0M347.54 129.65h0M353.39 125.32h0M354.28 124.64h0M358.84 118.24h0M362.83 115.24h0M367.55 115.23h0M373.46 107.52h0M373.52 110.95h0M379.71 106.09h0M381.77 105.83h0M386.31 104.09h0M388.32 103.37h0M389.28 101.32h0M393.99 100.26h0M393.81 98.81h0M401.07 96.19h0M396.15 95.62h0M398.06 96.5h0M342.34 134.16h0M341.33 129.32h0M345.94 129.93h0M344.67 128.25h0M344.31 129.13h0M352.47 126.72h0M353.19 123.81h0M364.06 114.92h0M360.57 119.96h0M366.17 113.64h0M372.31 111.87h0M375.07 113.1h0M384 106.97h0M390.71 99.53h0M396.33 99.14h0M398.62 95.29h0M401.88 94.61h0M408.93 88.42h0M412.28 84.23h0M412.3 82.25h0M414.06 86.21h0M415.2 92.93h0M418.33 83.7h0M418.15 81.66h0M379.44 107.75h0M380.32 103.89h0M376.59 100.67h0M381.16 106.82h0M382.82 103.21h0M383.55 101.09h0M387.32 99.02h0M392.89 98.96h0M393.43 99.72h0M396.91 101.07h0M400.07 92.62h0M405.32 89.82h0M407.56 91.43h0M413.5 87.44h0M413.77 85.02h0M418.36 81.64h0M423.9 83.97h0M428.89 79.24h0M427.72 80.83h0M431.25 71.9h0M434.29 72.1h0M433.6 74.55h0M435.53 71.41h0M436 75.08h0M355.91 130.65h0M355.69 122.27h0M360.08 116.19h0M358.94 121.76h0M362.76 123.16h0M365.36 113.56h0M366.11 118.18h0M368.68 117.85h0M372.38 111.03h0M380.11 107.07h0M376.97 106.54h0M387.06 104.15h0M389.15 102.25h0M391.65 100.26h0M397.48 96.3h0M400.22 99.34h0M401.87 92.8h0M406.56 87.59h0M409.7 86.61h0M412.62 97.8h0M413.77 87.61h0M414.71 78.93h0M411.19 88.73h0M414.56 82.81h0M359.46 119.15h0M359.94 120.35h0M357.77 123.21h0M359.45 120.18h0M360.42 122.28h0M362.13 121.16h0M368.53 116.11h0M372.34 112.17h0M373.92 112.02h0M378.34 110.52h0M384.25 102.33h0M383.09 103.86h0M389.26 101.65h0M392.97 98.51h0M398.87 96.84h0M397.76 97.12h0M400.63 98.37h0M407.7 91.27h0M408.24 92.4h0M412.34 90.35h0M414.89 87.05h0M415.94 86.99h0M417.63 85.67h0M416.54 90.69h0M381.86 103.37h0M378.96 106.98h0M384.72 100.33h0M381.49 108.42h0M385.65 106.09h0M390.68 101.18h0M387.34 100.92h0M395.02 97.3h0M395.24 99.18h0M400.07 92.84h0M400.61 90.12h0M403.56 95.35h0M412.35 87.8h0M419.37 82.8h0M420.46 84.13h0M422.5 82.8h0M425.87 77.51h0M431.89 74.62h0M434.29 74.18h0M432.12 76.84h0M433.05 74.38h0M440.03 72h0M436.33 71.87h0M438.65 70.48h0M397.98 92.65h0M394.14 101.86h0M395.17 101.65h0M394.23 97.96h0M400.51 91.67h0M399.35 93.04h0M403.06 92.08h0M400.61 94.92h0M406.8 91.86h0M406 90.34h0M409.69 85.49h0M409.95 88.9h0M414.58 83.91h0M418.88 87.1h0M419.36 84.2h0M421.67 81.25h0M425.35 76.89h0M425.7 82.01h0M428.97 78.07h0M429.61 80.91h0M432.3 74.88h0M430.62 77.57h0M432.25 73.12h0M432.49 79.04h0M379.44 109.2h0M377.46 111.93h0M375.28 112.47h0M376.26 106.42h0M380.26 107.24h0M381.69 105.34h0M383.31 104.63h0M386.76 102.92h0M392.52 97.97h0M390.87 106.07h0M398.46 93.19h0M401.04 96.74h0M408.27 93.78h0M405.49 94.08h0M413.31 87.88h0M415.43 87.13h0M419.19 79.98h0M422.73 77.83h0M428.17 78.94h0M427.26 78.17h0M429.2 76.77h0M426.64 75.31h0M431.4 78.09h0M427.74 77.41h0M374.81 112.42h0M376.22 106.57h0M378.94 104.55h0M379.46 103.32h0M379.81 105.11h0M383.36 106.89h0M383.99 104.84h0M387.68 102.25h0M390.85 106.02h0M396.27 97.84h0M398.05 99.12h0M400.53 93.48h0M404.19 93.27h0M415.22 86.71h0M410.31 92.59h0M417.9 88.19h0M421.05 85.32h0M424.2 81.3h0M425.41 83.17h0M430.75 74.18h0M431.73 76.71h0M430.92 74.8h0M432.9 73.21h0M431.44 76h0M419.68 81.72h0M423.07 80.32h0M422.98 79.86h0M423.01 80.14h0M422.62 79.07h0M424.68 81.64h0M428.01 77.87h0M433.02 76.86h0M432.88 80.78h0M435.88 74.16h0M436.89 74.82h0M442.88 66.94h0M446.63 69.74h0M448.46 67.4h0M451.2 63.23h0M456.37 59.54h0M460.08 56.89h0M460.63 61.17h0M465.98 50.42h0M465.85 56.34h0M468.74 55.93h0M472.32 50.79h0M468.93 50.29h0M470.17 53.82h0M407.33 90.36h0M407.51 92.35h0M409.68 91.07h0M407.15 91.3h0M412.68 86.02h0M411.44 88.04h0M415.62 84.05h0M421.54 81.46h0M419.81 87.97h0M429.43 78.88h0M434.19 74.43h0M436.56 77.38h0M439.6 76.14h0M442.28 72.98h0M445.43 68.34h0M453.76 65.52h0M450.66 67.12h0M455.66 66.55h0M459.44 59.02h0M459.56 57.27h0M459.88 58.16h0M464.25 54.88h0M464.52 56.13h0M461.26 58.41h0M388.25 100.13h0M388.45 104.33h0M391.09 98.16h0M395.47 99.45h0M399.89 91.23h0M400.46 93.53h0M408.57 92.22h0M413.79 91.61h0M418.83 80.64h0M431.02 77.58h0M436.71 71.59h0M445.33 64.15h0M449.96 64.96h0M463.31 54.2h0M470.36 48.59h0M479.18 43.52h0M483.89 45.69h0M494.35 39.74h0M497.62 36.94h0M500.74 33.99h0M506.39 29.27h0M509.59 28.81h0M508.83 32.11h0M512.76 27.51h0M463.61 57.94h0M464.44 58.56h0M465.73 53.84h0M470.08 56.98h0M466.49 51.48h0M467.83 54.19h0M472.25 51.85h0M474 51.53h0M473.01 52.37h0M484.77 39.78h0M485.37 40.89h0M484.94 44.15h0M490.64 43.54h0M496.12 36.17h0M498.55 36.19h0M501.86 30.81h0M506.35 31.47h0M510.66 25.18h0M513.28 27.89h0M513.84 24.32h0M515.93 26.48h0M513.32 26.19h0M514.23 27.22h0M517.38 21.84h0M427.31 75.68h0M428.95 80.15h0M427.84 77.76h0M429.58 78.32h0M432.44 76.15h0M430.54 74.71h0M435.33 71.38h0M442.01 68.1h0M444.29 67.94h0M445.84 64.02h0M452.3 64.43h0M459.09 57.01h0M462.44 59.71h0M461.41 57.56h0M466.46 48.65h0M467.56 55.16h0M473.56 50.43h0M475.27 45.94h0M478.97 47.24h0M483.5 42.4h0M484.19 44.27h0M485.51 50.79h0M483.86 42.26h0M489.01 37.11h0M391.34 102.48h0M389.51 101.8h0M393.3 96.23h0M397.05 102.57h0M394.34 100.85h0M400.64 92.33h0M400.51 95.67h0M408.47 91.15h0M412.07 87.9h0M414.71 85h0M417.85 82.91h0M421.65 79.77h0M427.54 77.65h0M435.63 73.42h0M439.25 70.54h0M442.98 70.52h0M445.97 67.04h0M450.52 66.01h0M455.07 58.92h0M452.08 64.89h0M458.11 57.02h0M460.54 56.58h0M459.34 59h0M460.79 56.85h0M397.8 97.78h0M396.19 96.95h0M397.02 95.29h0M398 93.81h0M400.89 94.84h0M405.23 95.6h0M409.85 89.74h0M411.46 89.06h0M414.85 85.86h0M417.82 83.44h0M424.01 81.35h0M427.23 80.02h0M434.58 71.59h0M436.82 71.56h0M442.78 70.61h0M445.84 67.16h0M448.75 61.72h0M452.62 64.81h0M453.55 63.94h0M459 62.45h0M459.36 58.68h0M459.63 59.91h0M462.2 59.31h0M464.09 53.31h0M426.78 79.07h0M422.46 81.45h0M426.73 76.36h0M429.26 73.59h0M432.03 75.03h0M431.78 75.83h0M436.75 69.49h0M440.7 72.55h0M443.74 65.79h0M443.16 69.84h0M449.22 67.1h0M453.06 60.95h0M457.49 62.52h0M462.32 57.29h0M468.66 52.92h0M470.08 55.98h0M471.55 53.78h0M474.23 50.11h0M480.85 49.56h0M480.15 45.96h0M483.41 46.77h0M487.98 38.67h0M489.06 42.83h0M489.34 43.55h0M416.38 85.6h0M422.31 81.17h0M419.84 82.57h0M423.56 82.38h0M423.62 82.98h0M428.44 77.71h0M429.43 74.64h0M433.02 78.77h0M436.46 72.45h0M439.27 70.07h0M445.33 64.76h0M451.5 67.63h0M452.14 59.87h0M459.06 55.9h0M461.18 55.7h0M465.01 55.3h0M468.11 55.39h0M478.27 47.18h0M478.21 50.29h0M479.83 45.17h0M484.57 44.55h0M480.05 47.89h0M485.15 40.42h0M484.12 44.82h0M405.2 89.88h0M401.48 94.04h0M405.05 87.71h0M405.96 90.4h0M410.42 92.8h0M408.71 87.83h0M412.03 87.14h0M415.73 87.75h0M418.75 84.45h0M422.24 88.26h0M424.8 77.5h0M426.14 78.46h0M434.11 73.88h0M438.71 72.42h0M438.81 74.15h0M440.55 73.6h0M446.96 63.36h0M445.76 69.5h0M450.55 66.31h0M449.01 62.86h0M456.48 58.62h0M452.59 64.39h0M456.27 58.93h0M454.64 63.65h0M394.67 101.3h0M393.42 103.33h0M396.35 94.3h0M395.37 92.41h0M401.03 96.06h0M399.25 95.41h0M403.14 94.05h0M407.34 91.7h0M410.21 90.14h0M413.56 87.33h0M417.06 86.04h0M419.03 86.17h0M422.99 85.17h0M426.68 77.45h0M425.44 75.6h0M431.07 77.07h0M434.02 68.96h0M436.26 75.54h0M439.95 74.04h0M438.68 75.58h0M439.34 69.67h0M442.09 70.17h0M445 66.98h0M442.48 68.97h0M380.05 108.28h0M387.36 97.94h0M388.02 102h0M387.76 104.43h0M387.47 98.55h0M389.15 99.04h0M389.16 102.61h0M391.9 102.54h0M398.11 97.09h0M398.41 92.53h0M404.49 92.22h0M404.74 90.77h0M403.64 89.28h0M411.39 87.65h0M417.04 86.93h0M417.28 81.69h0M417.82 82.13h0M420.14 84.19h0M424.77 82.61h0M423.73 77.47h0M424.12 82.63h0M428 75.12h0M428.39 79.55h0M427.01 79.57h0M362.1 119.56h0M365.23 118.56h0M361.64 122.75h0M365.46 114.73h0M367.73 113.79h0M375 111.53h0M372.29 111.45h0M379.08 110.33h0M381.11 104.78h0M387.89 103.24h0M392.66 101.23h0M393.58 99.5h0M398.92 98.8h0M401.01 96.04h0M406.31 91.84h0M412.62 88.73h0M412.3 87.22h0M416.69 85.57h0M421.32 83.92h0M423.16 80.98h0M425.02 80.15h0M423.01 82.28h0M427.48 79.74h0M428.23 81.72h0M364.69 121.52h0M365.27 113.98h0M367.65 117.64h0M371.7 112.83h0M367.06 114.59h0M370 111.65h0M375.96 112.81h0M373.86 110.57h0M379.77 110.7h0M384.09 101.5h0M387.9 101.19h0M392.15 102.12h0M396.21 96.62h0M401.3 94.78h0M407.96 89.65h0M414.19 87.45h0M411.58 89.78h0M419.22 80.77h0M422.32 79.83h0M424.55 82.38h0M429.23 78.39h0M428.05 77.53h0M430.69 78h0M426.87 78.19h0M386.12 106.64h0M391.78 97.88h0M390.34 100.04h0M388.44 103.34h0M392.65 102.05h0M396.66 97.54h0M395.91 98.22h0M401.27 94.14h0M400.98 94.82h0M408.35 90.91h0M411.37 86.11h0M414.2 84.57h0M417.72 83.11h0M421.75 83.17h0M428.37 78.05h0M431.63 75.56h0M428.22 78.6h0M433.14 78.69h0M437.49 74.95h0M440.11 71.1h0M439.64 72.84h0M444.78 69.55h0M449.1 66.26h0M441.82 71.35h0M387.99 102.49h0M390.62 102.56h0M393.29 97.65h0M393.72 93.66h0M393.65 99.42h0M396.3 94.22h0M397.45 96.82h0M399.67 94.63h0M401.86 92.53h0M404.15 89.96h0M408.94 87.89h0M410.94 87.13h0M414.95 85.71h0M416.48 86.4h0M423.49 84.39h0M423.43 78.84h0M425.86 74.36h0M431.42 75.17h0M430.44 78.07h0M432.58 74.06h0M433.88 75.79h0M431.21 74.88h0M437.09 76.74h0M432.64 76.73h0M373.41 112.2h0M372.66 111.32h0M371.47 108.48h0M371.23 113.22h0M376.79 106.6h0M377.1 110.89h0M383.77 105.12h0M383.09 105.02h0M387.72 102.66h0M391.2 98.73h0M392.97 90.69h0M396.23 96.24h0M405.01 95.39h0M408.43 90.3h0M411.42 85.99h0M414.16 88.69h0M420.46 84.94h0M420.35 80.86h0M426.83 79.81h0M428.12 80.1h0M427.35 81.18h0M429.7 76.99h0M431.04 78.26h0M430.81 78.36h0M359.17 124.94h0M357.01 114.72h0M357.93 123.76h0M358.77 119.47h0M361.16 123.84h0M366.26 115.81h0M369.15 113.71h0M366.36 118.97h0M375.21 112.05h0M375.76 112.19h0M382.07 106.32h0M386.98 102.85h0M393.49 101.07h0M393.83 104.53h0M399.11 97.06h0M400.34 93.83h0M400.99 96.9h0M405.09 92h0M412.71 85.19h0M411.26 86.33h0M414.77 83.8h0M418.93 85.98h0M419.26 83.43h0M416.72 82.07h0M380.76 108.33h0M379.46 105.28h0M385.41 103.56h0M380.89 106.89h0M384.1 106.74h0M385.46 105.88h0M386.61 101.41h0M390.56 100.79h0M386.99 105.56h0M390.2 104.43h0M394.65 101.5h0M395.89 98.27h0M400.27 93.43h0M397.24 97.41h0M404.32 91.28h0M402.47 91.77h0M405.66 89.16h0M411.86 90.25h0M410.43 87.15h0M407.63 89.28h0M413.15 85.77h0M411.26 89.6h0M414.91 86.18h0M414.14 88.79h0M361.74 118.49h0M360.26 120.8h0M362.3 116.61h0M358.71 121.07h0M365.37 118.42h0M369.9 117.8h0M368.5 111.73h0M370.17 110.26h0M375.66 107.32h0M379.97 104.71h0M381.86 105.93h0M381.68 108.89h0M387.98 101.57h0M392.53 100.69h0M396.92 95.62h0M395.6 97.05h0M402.2 91.85h0M407.33 90.35h0M410.44 92.27h0M406.48 91.95h0M408.36 90.22h0M411.53 89.74h0M411.44 90.43h0M412.1 87.57h0" stroke="#bf4246" stroke-opacity="0.85" stroke-width="1.1" stroke-linecap="round" fill="none"/>
<path d="M335.33 133.64h0M337.79 132.13h0M340.26 130.63h0M342.72 129.13h0M345.18 127.63h0M347.65 126.13h0M350.11 124.62h0M352.58 123.12h0M355.04 121.62h0M357.5 120.12h0M359.97 118.62h0M362.43 117.11h0M364.9 115.61h0M367.36 114.11h0M369.82 112.61h0M372.29 111.11h0M374.75 109.6h0M377.22 108.1h0M379.68 106.6h0M382.14 105.1h0M384.61 103.6h0M387.07 102.09h0M389.54 100.59h0M392 99.09h0M394.46 97.59h0M396.93 96.09h0M399.39 94.58h0M401.86 93.08h0M404.32 91.58h0M406.78 90.08h0M409.25 88.58h0M411.71 87.07h0M414.18 85.57h0M416.64 84.07h0M419.1 82.57h0M421.57 81.07h0M424.03 79.56h0M426.5 78.06h0M428.96 76.56h0M431.42 75.06h0M433.89 73.56h0M436.35 72.05h0M438.82 70.55h0M441.28 69.05h0M443.74 67.55h0M446.21 66.05h0M448.67 64.54h0M451.14 63.04h0M453.6 61.54h0M456.06 60.04h0M458.53 58.54h0M460.99 57.03h0M463.46 55.53h0M465.92 54.03h0M468.38 52.53h0M470.85 51.03h0M473.31 49.52h0M475.78 48.02h0M478.24 46.52h0M480.7 45.02h0M483.17 43.52h0M485.63 42.01h0M488.1 40.51h0M490.56 39.01h0M493.02 37.51h0M495.49 36.01h0M497.95 34.5h0M500.42 33h0M502.88 31.5h0M505.34 30h0M507.81 28.5h0M510.27 26.99h0M512.74 25.49h0M515.2 23.99h0M517.66 22.49h0" stroke="#111111" stroke-width="1.45" stroke-linecap="round" fill="none"/>
<path d="M297.3 6.8V157.2H543.4" stroke="#3a3a3a" stroke-width="1" fill="none"/>
<g font-family='"Liberation Serif", serif' font-size="6.3" fill="#111111" stroke="#111111" stroke-width="0.18">
<text x="292" y="158.5" text-anchor="end">0</text>
<text x="297" y="166.9" text-anchor="middle">0</text>
<text x="292" y="141.81" text-anchor="end">2</text>
<text x="324.38" y="166.9" text-anchor="middle">2</text>
<text x="292" y="125.12" text-anchor="end">4</text>
<text x="351.76" y="166.9" text-anchor="middle">4</text>
<text x="292" y="108.43" text-anchor="end">6</text>
<text x="379.13" y="166.9" text-anchor="middle">6</text>
<text x="292" y="91.74" text-anchor="end">8</text>
<text x="406.51" y="166.9" text-anchor="middle">8</text>
<text x="292" y="75.06" text-anchor="end">10</text>
<text x="433.89" y="166.9" text-anchor="middle">10</text>
<text x="292" y="58.37" text-anchor="end">12</text>
<text x="461.27" y="166.9" text-anchor="middle">12</text>
<text x="292" y="41.68" text-anchor="end">14</text>
<text x="488.64" y="166.9" text-anchor="middle">14</text>
<text x="292" y="24.99" text-anchor="end">16</text>
<text x="516.02" y="166.9" text-anchor="middle">16</text>
<text x="292" y="8.3" text-anchor="end">18</text>
<text x="543.4" y="166.9" text-anchor="middle">18</text>
<text transform="translate(283.6,82.9) rotate(-90)" text-anchor="middle">Predicted TN (1hr later)</text>
<text x="420.3" y="174.3" text-anchor="middle">Current TN - Actual</text>
<text x="420.3" y="188.4" text-anchor="middle">(b)</text>
</g>
</g>
<g id="pc">
<polyline fill="none" stroke="#3d3d3d" stroke-width="0.8" stroke-linejoin="round" points="22.5,281.37 22.5,268.92 22.5,289.08 22.5,287.73 26.5,285.62 26.5,241.56 26.5,290.04 26.5,286.91 30.5,288.6 30.5,275.64 30.5,297.08 30.5,284.36 34.5,283.3 34.5,275 34.5,291 34.5,284.88 38.5,275.3 38.5,270.04 38.5,291 38.5,284.38 42.5,282.64 42.5,273.08 42.5,287.96 42.5,284.88 46.5,280.11 46.5,275 46.5,290.04 46.5,285.41 51.5,284.59 51.5,279 51.5,313.4 51.5,288.68 55.5,281.09 55.5,269.56 55.5,295 55.5,284.63 59.5,282.59 59.5,263.96 59.5,311.8 59.5,274.03 63.5,281.04 63.5,260.6 63.5,293.08 63.5,286.97 67.5,283.73 67.5,269.56 67.5,291.96 67.5,273.56 71.5,281.45 71.5,271.96 71.5,291 71.5,285.1 75.5,281.56 75.5,268.92 75.5,303.64 75.5,290.72 79.5,284.4 79.5,276.92 79.5,291 79.5,285.21 84.5,281.72 84.5,254.04 84.5,316.6 84.5,286.17 88.5,280.72 88.5,274.04 88.5,290.04 88.5,288.66 92.5,283.88 92.5,271.96 92.5,291 92.5,286.85 96.5,278.75 96.5,278.04 96.5,294.04 96.5,282.79 100.5,285.6 100.5,278.04 100.5,290.04 100.5,289.61 104.5,282.93 104.5,275 104.5,294.04 104.5,288.66 108.5,283.98 108.5,274.04 108.5,291.96 108.5,285.05 113.5,285.24 113.5,275 113.5,291.96 113.5,284.3 117.5,283.16 117.5,274.04 117.5,291 117.5,287.93 121.5,284.43 121.5,275.96 121.5,289.08 121.5,286.47 125.5,280.72 125.5,279.8 125.5,303.96 125.5,287.64 129.5,285.9 129.5,275 129.5,291.96 129.5,290.66 133.5,281.82 133.5,274.36 133.5,291 133.5,284.6 137.5,281.83 137.5,279 137.5,300.6 137.5,288.71 141.5,283.22 141.5,275.96 141.5,318.2 141.5,292.23 146.5,282.46 146.5,273.4 146.5,295.8 146.5,286.54 150.5,281.05 150.5,271.96 150.5,291.96 150.5,285.27 154.5,285.83 154.5,271.96 154.5,291.96 154.5,287.44 158.5,287.19 158.5,274.04 158.5,291 158.5,290.26 162.5,286.01 162.5,252.6 162.5,291 162.5,285.7 166.5,284.64 166.5,267 166.5,291.96 166.5,288.32 170.5,285.16 170.5,271.96 170.5,287 170.5,286.42 174.5,280.4 174.5,239.96 174.5,286.2 174.5,277.04 179.5,281.68 179.5,271.96 179.5,287.8 179.5,285.42 183.5,282.4 183.5,274.04 183.5,287.8 183.5,280.07 187.5,280.75 187.5,274.04 187.5,290.04 187.5,285.85 191.5,282.62 191.5,214.2 191.5,295 191.5,291.72 195.5,284.91 195.5,274.04 195.5,290.04 195.5,284.78 199.5,283.71 199.5,193.4 199.5,287 199.5,284.22 203.5,277.81 203.5,272.6 203.5,289.08 203.5,284.35 208.5,282.26 208.5,275 208.5,294.04 208.5,289.97 212.5,284.66 212.5,274.68 212.5,290.04 212.5,278.36 216.5,281.63 216.5,273.4 216.5,291.96 216.5,283.92 220.5,280.68 220.5,248.12 220.5,286.2 220.5,286.18 224.5,287.42 224.5,275 224.5,287.8 224.5,280.82 228.5,281.89 228.5,247.16 228.5,311.96 228.5,289.83 232.5,281.81 232.5,276.92 232.5,290.04 232.5,286.61 236.5,282.01 236.5,275.96 236.5,287.8 236.5,287.37 241.5,286.55 241.5,274.04 241.5,290.04 241.5,282.49 245.5,284.75 245.5,273.4 245.5,287.8 245.5,285.14 249.5,279.86 249.5,274.04 249.5,290.04 249.5,282.95 253.5,279.23 253.5,271.96 253.5,294.04 253.5,287.37 257.5,282.85 257.5,274.04 257.5,330.36 257.5,286.19 261.5,284.46 261.5,272.6 261.5,287.8 261.5,286.43 265.5,284.25 265.5,276.92 265.5,291 265.5,285.75 270.5,285.23 270.5,271.96 270.5,287.8 270.5,284.87"/>
<line x1="21.4" y1="282.52" x2="270.6" y2="282.52" stroke="#a80f1c" stroke-width="1.0" stroke-dasharray="1.25 1.15"/>
<g stroke="#3a3a3a" stroke-width="0.85" fill="none">
<path d="M20.4 185.4V345.4H265.8"/>
<path d="M20.4 345.4h-1.5M20.4 329.4h-1.5M20.4 313.4h-1.5M20.4 297.4h-1.5M20.4 281.4h-1.5M20.4 265.4h-1.5M20.4 249.4h-1.5M20.4 233.4h-1.5M20.4 217.4h-1.5M20.4 201.4h-1.5M20.4 185.4h-1.5"/>
</g>
<g font-family='"Liberation Serif", serif' font-size="5.6" fill="#111111" stroke="#111111" stroke-width="0.14">
<text x="15.2" y="347.8" text-anchor="end">-4</text>
<text x="15.2" y="331.8" text-anchor="end">-3</text>
<text x="15.2" y="315.8" text-anchor="end">-2</text>
<text x="15.2" y="299.8" text-anchor="end">-1</text>
<text x="15.2" y="283.8" text-anchor="end">0</text>
<text x="15.2" y="267.8" text-anchor="end">1</text>
<text x="15.2" y="251.8" text-anchor="end">2</text>
<text x="15.2" y="235.8" text-anchor="end">3</text>
<text x="15.2" y="219.8" text-anchor="end">4</text>
<text x="15.2" y="203.8" text-anchor="end">5</text>
<text x="15.2" y="187.8" text-anchor="end">6</text>
<text transform="translate(7.8,265.4) rotate(-90)" text-anchor="middle" font-size="5.6">Residual error</text>
<text x="139.5" y="369.8" text-anchor="middle" font-size="5.6">(c)</text>
</g>
<g font-family='"Liberation Serif", serif' font-size="3.8" fill="#2b2b2b" stroke="#2b2b2b" stroke-width="0.08">
<text transform="translate(22,349.8) rotate(-45)" text-anchor="end">01-Mar-22</text>
<text transform="translate(42.44,349.8) rotate(-45)" text-anchor="end">06-Mar-22</text>
<text transform="translate(62.88,349.8) rotate(-45)" text-anchor="end">11-Mar-22</text>
<text transform="translate(83.32,349.8) rotate(-45)" text-anchor="end">16-Mar-22</text>
<text transform="translate(103.76,349.8) rotate(-45)" text-anchor="end">21-Mar-22</text>
<text transform="translate(124.2,349.8) rotate(-45)" text-anchor="end">26-Mar-22</text>
<text transform="translate(144.64,349.8) rotate(-45)" text-anchor="end">31-Mar-22</text>
<text transform="translate(165.08,349.8) rotate(-45)" text-anchor="end">05-Apr-22</text>
<text transform="translate(185.52,349.8) rotate(-45)" text-anchor="end">10-Apr-22</text>
<text transform="translate(205.96,349.8) rotate(-45)" text-anchor="end">15-Apr-22</text>
<text transform="translate(226.4,349.8) rotate(-45)" text-anchor="end">20-Apr-22</text>
<text transform="translate(246.84,349.8) rotate(-45)" text-anchor="end">25-Apr-22</text>
<text transform="translate(267.28,349.8) rotate(-45)" text-anchor="end">30-Apr-22</text>
</g>
</g>
<g id="pd">
<path d="M344.79 293.94h0M345.8 292.33h0M346.74 292.19h0M347.62 292.07h0M348.44 291.96h0M349.21 291.85h0M349.94 291.76h0M350.63 291.66h0M351.29 291.57h0M351.92 291.49h0M352.53 291.41h0M353.1 291.33h0M353.66 291.26h0M354.19 291.18h0M354.71 291.11h0M355.2 291.05h0M355.68 290.98h0M356.15 290.92h0M356.6 290.86h0M357.04 290.8h0M357.47 290.74h0M357.88 290.69h0M358.28 290.63h0M358.68 290.58h0M359.06 290.53h0M359.43 290.48h0M359.8 290.43h0M360.15 290.38h0M360.5 290.33h0M360.84 290.29h0M361.18 290.24h0M361.51 290.2h0M361.83 290.16h0M362.14 290.11h0M362.45 290.07h0M362.75 290.03h0M363.05 289.99h0M363.34 289.95h0M363.63 289.91h0M363.91 289.88h0M364.19 289.84h0M364.46 289.8h0M364.73 289.76h0M365 289.73h0M365.26 289.69h0M365.52 289.66h0M365.77 289.63h0M366.02 289.59h0M366.26 289.56h0M366.51 289.53h0M366.75 289.49h0M366.98 289.46h0M367.22 289.43h0M367.45 289.4h0M367.67 289.37h0M367.9 289.34h0M368.12 289.31h0M368.34 289.28h0M368.55 289.25h0M368.77 289.22h0M368.98 289.19h0M369.19 289.17h0M369.4 289.14h0M369.6 289.11h0M369.8 289.08h0M370 289.06h0M370.2 289.03h0M370.4 289h0M370.59 288.98h0M370.78 288.95h0M370.97 288.92h0M371.16 288.89h0M371.35 288.86h0M371.53 288.83h0M371.71 288.79h0M371.9 288.76h0M372.07 288.73h0M372.25 288.7h0M372.43 288.67h0M372.6 288.64h0M372.78 288.61h0M372.95 288.58h0M373.12 288.55h0M373.29 288.52h0M373.46 288.49h0M373.62 288.47h0M373.79 288.44h0M373.95 288.41h0M374.11 288.38h0M374.27 288.35h0M374.43 288.33h0M374.59 288.3h0M374.75 288.27h0M374.9 288.24h0M375.06 288.22h0M375.21 288.19h0M375.37 288.16h0M375.52 288.14h0M375.67 288.11h0M375.82 288.09h0M375.97 288.06h0M376.11 288.03h0M376.26 288.01h0M376.41 287.98h0M376.55 287.96h0M376.69 287.93h0M376.84 287.91h0M376.98 287.89h0M377.12 287.86h0M377.26 287.84h0M377.4 287.81h0M377.54 287.79h0M377.67 287.77h0M377.81 287.74h0M377.94 287.72h0M378.08 287.69h0M378.21 287.67h0M378.35 287.65h0M378.48 287.63h0M378.61 287.6h0M378.74 287.58h0M378.87 287.56h0M379 287.54h0M379.13 287.51h0M379.26 287.49h0M379.38 287.47h0M379.51 287.45h0M379.64 287.43h0M379.76 287.4h0M379.89 287.38h0M380.01 287.36h0M380.13 287.34h0M380.26 287.32h0M380.38 287.3h0M380.5 287.28h0M380.62 287.26h0M380.74 287.24h0M380.86 287.21h0M380.98 287.19h0M381.1 287.17h0M381.21 287.15h0M381.33 287.13h0M381.45 287.11h0M381.56 287.09h0M381.68 287.07h0M381.8 287.05h0M381.91 287.03h0M382.02 287.01h0M382.14 286.99h0M382.25 286.97h0M382.36 286.95h0M382.47 286.94h0M382.59 286.92h0M382.7 286.9h0M382.81 286.88h0M382.92 286.86h0M383.03 286.84h0M383.14 286.82h0M383.24 286.8h0M383.35 286.78h0M383.46 286.77h0M383.57 286.75h0M383.67 286.73h0M383.78 286.71h0M383.89 286.69h0M383.99 286.67h0M384.1 286.66h0M384.2 286.64h0M384.31 286.62h0M384.41 286.6h0M384.51 286.58h0M384.62 286.57h0M384.72 286.55h0M384.82 286.53h0M384.92 286.51h0M385.02 286.49h0M385.12 286.48h0M385.23 286.46h0M385.33 286.44h0M385.43 286.43h0M385.53 286.41h0M385.62 286.39h0M385.72 286.37h0M385.82 286.36h0M385.92 286.34h0M386.02 286.32h0M386.11 286.31h0M386.21 286.29h0M386.31 286.27h0M386.41 286.26h0M386.5 286.24h0M386.6 286.22h0M386.69 286.21h0M386.79 286.19h0M386.88 286.17h0M386.98 286.16h0M387.07 286.14h0M387.17 286.12h0M387.26 286.11h0M387.35 286.09h0M387.45 286.08h0M387.54 286.06h0M387.63 286.04h0M387.72 286.03h0M387.81 286.01h0M387.91 286h0M388 285.98h0M388.09 285.97h0M388.18 285.95h0M388.27 285.93h0M388.36 285.92h0M388.45 285.9h0M388.54 285.89h0M388.63 285.87h0M388.72 285.86h0M388.81 285.84h0M388.89 285.83h0M388.98 285.81h0M389.07 285.8h0M389.16 285.78h0M389.25 285.77h0M389.33 285.75h0M389.42 285.74h0M389.51 285.72h0M389.59 285.71h0M389.68 285.69h0M389.77 285.68h0M389.85 285.66h0M389.94 285.65h0M390.02 285.63h0M390.11 285.62h0M390.19 285.6h0M390.28 285.59h0M390.36 285.57h0M390.45 285.56h0M390.53 285.54h0M390.61 285.53h0M390.7 285.51h0M390.78 285.5h0M390.86 285.49h0M390.95 285.47h0M391.03 285.46h0M391.11 285.44h0M391.19 285.43h0M391.28 285.41h0M391.36 285.4h0M391.44 285.39h0M391.52 285.37h0M391.6 285.36h0M391.68 285.34h0M391.76 285.33h0M391.84 285.32h0M391.92 285.3h0M392.01 285.29h0M392.09 285.27h0M392.17 285.26h0M392.24 285.25h0M392.32 285.23h0M392.4 285.22h0M392.48 285.21h0M392.56 285.19h0M392.64 285.18h0M392.72 285.17h0M392.8 285.15h0M392.88 285.14h0M392.95 285.12h0M393.03 285.11h0M393.11 285.1h0M393.19 285.08h0M393.26 285.07h0M393.34 285.06h0M393.42 285.04h0M393.5 285.03h0M393.57 285.02h0M393.65 285h0M393.73 284.99h0M393.8 284.98h0M393.88 284.96h0M393.95 284.95h0M394.03 284.94h0M394.1 284.93h0M394.18 284.91h0M394.26 284.9h0M394.33 284.89h0M394.41 284.87h0M394.48 284.86h0M394.56 284.85h0M394.63 284.84h0M394.7 284.82h0M394.78 284.81h0M394.85 284.8h0M394.93 284.78h0M395 284.77h0M395.07 284.76h0M395.15 284.75h0M395.22 284.73h0M395.29 284.72h0M395.37 284.71h0M395.44 284.7h0M395.51 284.68h0M395.58 284.67h0M395.66 284.66h0M395.73 284.64h0M395.8 284.63h0M395.87 284.62h0M395.95 284.61h0M396.02 284.6h0M396.09 284.58h0M396.16 284.57h0M396.23 284.56h0M396.3 284.55h0M396.38 284.53h0M396.45 284.52h0M396.52 284.51h0M396.59 284.5h0M396.66 284.48h0M396.73 284.47h0M396.8 284.46h0M396.87 284.45h0M396.94 284.44h0M397.01 284.42h0M397.08 284.41h0M397.15 284.4h0M397.22 284.39h0M397.29 284.38h0M397.36 284.36h0M397.43 284.35h0M397.5 284.34h0M397.57 284.33h0M397.64 284.32h0M397.7 284.3h0M397.77 284.29h0M397.84 284.28h0M397.91 284.27h0M397.98 284.26h0M398.05 284.24h0M398.12 284.23h0M398.18 284.22h0M398.25 284.21h0M398.32 284.2h0M398.39 284.19h0M398.46 284.17h0M398.52 284.16h0M398.59 284.15h0M398.66 284.14h0M398.73 284.13h0M398.79 284.12h0M398.86 284.1h0M398.93 284.09h0M398.99 284.08h0M399.06 284.07h0M399.13 284.06h0M399.19 284.05h0M399.26 284.03h0M399.33 284.02h0M399.39 284.01h0M399.46 284h0M399.52 283.99h0M399.59 283.98h0M399.66 283.97h0M399.72 283.95h0M399.79 283.94h0M399.85 283.93h0M399.92 283.92h0M399.99 283.91h0M400.05 283.9h0M400.12 283.89h0M400.18 283.88h0M400.25 283.86h0M400.31 283.85h0M400.38 283.84h0M400.44 283.83h0M400.51 283.82h0M400.57 283.81h0M400.63 283.8h0M400.7 283.79h0M400.76 283.78h0M400.83 283.76h0M400.89 283.75h0M400.96 283.74h0M401.02 283.73h0M401.08 283.72h0M401.15 283.71h0M401.21 283.7h0M401.28 283.69h0M401.34 283.68h0M401.4 283.66h0M401.47 283.65h0M401.53 283.64h0M401.59 283.63h0M401.66 283.62h0M401.72 283.61h0M401.78 283.6h0M401.85 283.59h0M401.91 283.58h0M401.97 283.57h0M402.03 283.56h0M402.1 283.54h0M402.16 283.53h0M402.22 283.52h0M402.28 283.51h0M402.35 283.5h0M402.41 283.49h0M402.47 283.48h0M402.53 283.47h0M402.6 283.46h0M402.66 283.45h0M402.72 283.44h0M402.78 283.43h0M402.84 283.42h0M402.91 283.4h0M402.97 283.39h0M403.03 283.38h0M403.09 283.37h0M403.15 283.36h0M403.21 283.35h0M403.27 283.34h0M403.34 283.33h0M403.4 283.32h0M403.46 283.31h0M403.52 283.3h0M403.58 283.29h0M403.64 283.28h0M403.7 283.27h0M403.76 283.26h0M403.82 283.25h0M403.88 283.24h0M403.95 283.23h0M404.01 283.21h0M404.07 283.2h0M404.13 283.19h0M404.19 283.18h0M404.25 283.17h0M404.31 283.16h0M404.37 283.15h0M404.43 283.14h0M404.49 283.13h0M404.55 283.12h0M404.61 283.11h0M404.67 283.1h0M404.73 283.09h0M404.79 283.08h0M404.85 283.07h0M404.91 283.06h0M404.97 283.05h0M405.03 283.04h0M405.09 283.03h0M405.15 283.02h0M405.21 283.01h0M405.26 283h0M405.32 282.99h0M405.38 282.98h0M405.44 282.97h0M405.5 282.96h0M405.56 282.95h0M405.62 282.94h0M405.68 282.93h0M405.74 282.92h0M405.8 282.91h0M405.85 282.9h0M405.91 282.89h0M405.97 282.87h0M406.03 282.86h0M406.09 282.85h0M406.15 282.84h0M406.21 282.83h0M406.27 282.82h0M406.32 282.81h0M406.38 282.8h0M406.44 282.79h0M406.5 282.78h0M406.56 282.77h0M406.61 282.76h0M406.67 282.75h0M406.73 282.74h0M406.79 282.73h0M406.85 282.72h0M406.9 282.71h0M406.96 282.7h0M407.02 282.69h0M407.08 282.68h0M407.14 282.67h0M407.19 282.66h0M407.25 282.65h0M407.31 282.64h0M407.37 282.63h0M407.42 282.62h0M407.48 282.61h0M407.54 282.6h0M407.6 282.59h0M407.65 282.58h0M407.71 282.57h0M407.77 282.56h0M407.82 282.55h0M407.88 282.54h0M407.94 282.54h0M408 282.53h0M408.05 282.52h0M408.11 282.51h0M408.17 282.5h0M408.22 282.49h0M408.28 282.48h0M408.34 282.47h0M408.39 282.46h0M408.45 282.45h0M408.51 282.44h0M408.56 282.43h0M408.62 282.42h0M408.68 282.41h0M408.73 282.4h0M408.79 282.39h0M408.85 282.38h0M408.9 282.37h0M408.96 282.36h0M409.02 282.35h0M409.07 282.34h0M409.13 282.33h0M409.19 282.32h0M409.24 282.31h0M409.3 282.3h0M409.35 282.29h0M409.41 282.28h0M409.47 282.27h0M409.52 282.26h0M409.58 282.25h0M409.63 282.24h0M409.69 282.23h0M409.75 282.22h0M409.8 282.21h0M409.86 282.2h0M409.91 282.19h0M409.97 282.18h0M410.02 282.17h0M410.08 282.17h0M410.14 282.16h0M410.19 282.15h0M410.25 282.14h0M410.3 282.13h0M410.36 282.12h0M410.41 282.11h0M410.47 282.1h0M410.52 282.09h0M410.58 282.08h0M410.64 282.07h0M410.69 282.06h0M410.75 282.05h0M410.8 282.04h0M410.86 282.03h0M410.91 282.02h0M410.97 282.01h0M411.02 282h0M411.08 281.99h0M411.13 281.98h0M411.19 281.97h0M411.24 281.96h0M411.3 281.95h0M411.35 281.95h0M411.41 281.94h0M411.46 281.93h0M411.52 281.92h0M411.57 281.91h0M411.63 281.9h0M411.68 281.89h0M411.74 281.88h0M411.79 281.87h0M411.85 281.86h0M411.9 281.85h0M411.96 281.84h0M412.01 281.83h0M412.06 281.82h0M412.12 281.81h0M412.17 281.8h0M412.23 281.79h0M412.28 281.78h0M412.34 281.78h0M412.39 281.77h0M412.45 281.76h0M412.5 281.75h0M412.55 281.74h0M412.61 281.73h0M412.66 281.72h0M412.72 281.71h0M412.77 281.7h0M412.83 281.69h0M412.88 281.68h0M412.93 281.67h0M412.99 281.66h0M413.04 281.65h0M413.1 281.64h0M413.15 281.63h0M413.21 281.63h0M413.26 281.62h0M413.31 281.61h0M413.37 281.6h0M413.42 281.59h0M413.48 281.58h0M413.53 281.57h0M413.58 281.56h0M413.64 281.55h0M413.69 281.54h0M413.75 281.53h0M413.8 281.52h0M413.85 281.51h0M413.91 281.5h0M413.96 281.49h0M414.02 281.49h0M414.07 281.48h0M414.12 281.47h0M414.18 281.46h0M414.23 281.45h0M414.28 281.44h0M414.34 281.43h0M414.39 281.42h0M414.44 281.41h0M414.5 281.4h0M414.55 281.39h0M414.61 281.38h0M414.66 281.37h0M414.71 281.36h0M414.77 281.36h0M414.82 281.35h0M414.87 281.34h0M414.93 281.33h0M414.98 281.32h0M415.03 281.31h0M415.09 281.3h0M415.14 281.29h0M415.19 281.28h0M415.25 281.27h0M415.3 281.26h0M415.35 281.25h0M415.41 281.24h0M415.46 281.24h0M415.51 281.23h0M415.57 281.22h0M415.62 281.21h0M415.67 281.2h0M415.73 281.19h0M415.78 281.18h0M415.83 281.17h0M415.89 281.16h0M415.94 281.15h0M415.99 281.14h0M416.05 281.13h0M416.1 281.12h0M416.15 281.12h0M416.21 281.11h0M416.26 281.1h0M416.31 281.09h0M416.37 281.08h0M416.42 281.07h0M416.47 281.06h0M416.53 281.05h0M416.58 281.04h0M416.63 281.03h0M416.69 281.02h0M416.74 281.01h0M416.79 281.01h0M416.84 281h0M416.9 280.99h0M416.95 280.98h0M417 280.97h0M417.06 280.96h0M417.11 280.95h0M417.16 280.94h0M417.22 280.93h0M417.27 280.92h0M417.32 280.91h0M417.37 280.9h0M417.43 280.9h0M417.48 280.89h0M417.53 280.88h0M417.59 280.87h0M417.64 280.86h0M417.69 280.85h0M417.75 280.84h0M417.8 280.83h0M417.85 280.82h0M417.9 280.81h0M417.96 280.8h0M418.01 280.79h0M418.06 280.79h0M418.12 280.78h0M418.17 280.77h0M418.22 280.76h0M418.27 280.75h0M418.33 280.74h0M418.38 280.73h0M418.43 280.72h0M418.49 280.71h0M418.54 280.7h0M418.59 280.69h0M418.64 280.69h0M418.7 280.68h0M418.75 280.67h0M418.8 280.66h0M418.85 280.65h0M418.91 280.64h0M418.96 280.63h0M419.01 280.62h0M419.07 280.61h0M419.12 280.6h0M419.17 280.59h0M419.22 280.59h0M419.28 280.58h0M419.33 280.57h0M419.38 280.56h0M419.44 280.55h0M419.49 280.54h0M419.54 280.53h0M419.59 280.52h0M419.65 280.51h0M419.7 280.5h0M419.75 280.49h0M419.8 280.48h0M419.86 280.48h0M419.91 280.47h0M419.96 280.46h0M420.02 280.45h0M420.07 280.44h0M420.12 280.43h0M420.17 280.42h0M420.23 280.41h0M420.28 280.4h0M420.33 280.39h0M420.38 280.38h0M420.44 280.38h0M420.49 280.37h0M420.54 280.36h0M420.6 280.35h0M420.65 280.34h0M420.7 280.33h0M420.75 280.32h0M420.81 280.31h0M420.86 280.3h0M420.91 280.29h0M420.96 280.28h0M421.02 280.28h0M421.07 280.27h0M421.12 280.26h0M421.18 280.25h0M421.23 280.24h0M421.28 280.23h0M421.33 280.22h0M421.39 280.21h0M421.44 280.2h0M421.49 280.19h0M421.55 280.18h0M421.6 280.17h0M421.65 280.17h0M421.7 280.16h0M421.76 280.15h0M421.81 280.14h0M421.86 280.13h0M421.91 280.12h0M421.97 280.11h0M422.02 280.1h0M422.07 280.09h0M422.13 280.08h0M422.18 280.07h0M422.23 280.07h0M422.28 280.06h0M422.34 280.05h0M422.39 280.04h0M422.44 280.03h0M422.5 280.02h0M422.55 280.01h0M422.6 280h0M422.65 279.99h0M422.71 279.98h0M422.76 279.97h0M422.81 279.96h0M422.87 279.96h0M422.92 279.95h0M422.97 279.94h0M423.03 279.93h0M423.08 279.92h0M423.13 279.91h0M423.18 279.9h0M423.24 279.89h0M423.29 279.88h0M423.34 279.87h0M423.4 279.86h0M423.45 279.85h0M423.5 279.85h0M423.56 279.84h0M423.61 279.83h0M423.66 279.82h0M423.71 279.81h0M423.77 279.8h0M423.82 279.79h0M423.87 279.78h0M423.93 279.77h0M423.98 279.76h0M424.03 279.75h0M424.09 279.74h0M424.14 279.74h0M424.19 279.73h0M424.25 279.72h0M424.3 279.71h0M424.35 279.7h0M424.41 279.69h0M424.46 279.68h0M424.51 279.67h0M424.57 279.66h0M424.62 279.65h0M424.67 279.64h0M424.73 279.63h0M424.78 279.63h0M424.83 279.62h0M424.89 279.61h0M424.94 279.6h0M424.99 279.59h0M425.05 279.58h0M425.1 279.57h0M425.15 279.56h0M425.21 279.55h0M425.26 279.54h0M425.31 279.53h0M425.37 279.52h0M425.42 279.51h0M425.47 279.51h0M425.53 279.5h0M425.58 279.49h0M425.63 279.48h0M425.69 279.47h0M425.74 279.46h0M425.79 279.45h0M425.85 279.44h0M425.9 279.43h0M425.96 279.42h0M426.01 279.41h0M426.06 279.4h0M426.12 279.39h0M426.17 279.38h0M426.22 279.38h0M426.28 279.37h0M426.33 279.36h0M426.38 279.35h0M426.44 279.34h0M426.49 279.33h0M426.55 279.32h0M426.6 279.31h0M426.65 279.3h0M426.71 279.29h0M426.76 279.28h0M426.82 279.27h0M426.87 279.26h0M426.92 279.25h0M426.98 279.25h0M427.03 279.24h0M427.09 279.23h0M427.14 279.22h0M427.19 279.21h0M427.25 279.2h0M427.3 279.19h0M427.36 279.18h0M427.41 279.17h0M427.47 279.16h0M427.52 279.15h0M427.57 279.14h0M427.63 279.13h0M427.68 279.12h0M427.74 279.11h0M427.79 279.1h0M427.85 279.1h0M427.9 279.09h0M427.95 279.08h0M428.01 279.07h0M428.06 279.06h0M428.12 279.05h0M428.17 279.04h0M428.23 279.03h0M428.28 279.02h0M428.34 279.01h0M428.39 279h0M428.44 278.99h0M428.5 278.98h0M428.55 278.97h0M428.61 278.96h0M428.66 278.95h0M428.72 278.94h0M428.77 278.93h0M428.83 278.93h0M428.88 278.92h0M428.94 278.91h0M428.99 278.9h0M429.05 278.89h0M429.1 278.88h0M429.16 278.87h0M429.21 278.86h0M429.27 278.85h0M429.32 278.84h0M429.38 278.83h0M429.43 278.82h0M429.49 278.81h0M429.54 278.8h0M429.6 278.79h0M429.65 278.78h0M429.71 278.77h0M429.76 278.76h0M429.82 278.75h0M429.88 278.74h0M429.93 278.73h0M429.99 278.73h0M430.04 278.72h0M430.1 278.71h0M430.15 278.7h0M430.21 278.69h0M430.26 278.68h0M430.32 278.67h0M430.38 278.66h0M430.43 278.65h0M430.49 278.64h0M430.54 278.63h0M430.6 278.62h0M430.65 278.61h0M430.71 278.6h0M430.77 278.59h0M430.82 278.58h0M430.88 278.57h0M430.93 278.56h0M430.99 278.55h0M431.05 278.54h0M431.1 278.53h0M431.16 278.52h0M431.21 278.51h0M431.27 278.5h0M431.33 278.49h0M431.38 278.48h0M431.44 278.47h0M431.5 278.46h0M431.55 278.45h0M431.61 278.44h0M431.67 278.44h0M431.72 278.43h0M431.78 278.42h0M431.84 278.41h0M431.89 278.4h0M431.95 278.39h0M432.01 278.38h0M432.06 278.37h0M432.12 278.36h0M432.18 278.35h0M432.23 278.34h0M432.29 278.33h0M432.35 278.32h0M432.4 278.31h0M432.46 278.3h0M432.52 278.29h0M432.58 278.28h0M432.63 278.27h0M432.69 278.26h0M432.75 278.25h0M432.8 278.24h0M432.86 278.23h0M432.92 278.22h0M432.98 278.21h0M433.03 278.2h0M433.09 278.19h0M433.15 278.18h0M433.21 278.17h0M433.26 278.16h0M433.32 278.15h0M433.38 278.14h0M433.44 278.13h0M433.5 278.12h0M433.55 278.11h0M433.61 278.1h0M433.67 278.09h0M433.73 278.08h0M433.79 278.07h0M433.84 278.06h0M433.9 278.05h0M433.96 278.04h0M434.02 278.03h0M434.08 278.02h0M434.13 278.01h0M434.19 278h0M434.25 277.99h0M434.31 277.98h0M434.37 277.97h0M434.43 277.96h0M434.49 277.95h0M434.55 277.94h0M434.6 277.93h0M434.66 277.92h0M434.72 277.91h0M434.78 277.9h0M434.84 277.89h0M434.9 277.88h0M434.96 277.87h0M435.02 277.86h0M435.08 277.85h0M435.14 277.84h0M435.19 277.83h0M435.25 277.81h0M435.31 277.8h0M435.37 277.79h0M435.43 277.78h0M435.49 277.77h0M435.55 277.76h0M435.61 277.75h0M435.67 277.74h0M435.73 277.73h0M435.79 277.72h0M435.85 277.71h0M435.91 277.7h0M435.97 277.69h0M436.03 277.68h0M436.09 277.67h0M436.15 277.66h0M436.21 277.65h0M436.27 277.64h0M436.33 277.63h0M436.39 277.62h0M436.45 277.61h0M436.52 277.6h0M436.58 277.59h0M436.64 277.58h0M436.7 277.57h0M436.76 277.56h0M436.82 277.54h0M436.88 277.53h0M436.94 277.52h0M437 277.51h0M437.06 277.5h0M437.13 277.49h0M437.19 277.48h0M437.25 277.47h0M437.31 277.46h0M437.37 277.45h0M437.43 277.44h0M437.49 277.43h0M437.56 277.42h0M437.62 277.41h0M437.68 277.4h0M437.74 277.39h0M437.8 277.37h0M437.87 277.36h0M437.93 277.35h0M437.99 277.34h0M438.05 277.33h0M438.12 277.32h0M438.18 277.31h0M438.24 277.3h0M438.3 277.29h0M438.37 277.28h0M438.43 277.27h0M438.49 277.26h0M438.55 277.24h0M438.62 277.23h0M438.68 277.22h0M438.74 277.21h0M438.81 277.21h0M438.87 277.2h0M438.93 277.19h0M439 277.18h0M439.06 277.17h0M439.12 277.16h0M439.19 277.15h0M439.25 277.14h0M439.32 277.14h0M439.38 277.13h0M439.44 277.12h0M439.51 277.11h0M439.57 277.1h0M439.64 277.09h0M439.7 277.08h0M439.77 277.07h0M439.83 277.07h0M439.89 277.06h0M439.96 277.05h0M440.02 277.04h0M440.09 277.03h0M440.15 277.02h0M440.22 277.01h0M440.28 277h0M440.35 276.99h0M440.41 276.99h0M440.48 276.98h0M440.55 276.97h0M440.61 276.96h0M440.68 276.95h0M440.74 276.94h0M440.81 276.93h0M440.88 276.92h0M440.94 276.91h0M441.01 276.9h0M441.07 276.89h0M441.14 276.89h0M441.21 276.88h0M441.27 276.87h0M441.34 276.86h0M441.41 276.85h0M441.47 276.84h0M441.54 276.83h0M441.61 276.82h0M441.67 276.81h0M441.74 276.8h0M441.81 276.79h0M441.88 276.78h0M441.94 276.78h0M442.01 276.77h0M442.08 276.76h0M442.15 276.75h0M442.22 276.74h0M442.28 276.73h0M442.35 276.72h0M442.42 276.71h0M442.49 276.7h0M442.56 276.69h0M442.63 276.68h0M442.7 276.67h0M442.76 276.66h0M442.83 276.65h0M442.9 276.64h0M442.97 276.63h0M443.04 276.63h0M443.11 276.62h0M443.18 276.61h0M443.25 276.6h0M443.32 276.59h0M443.39 276.58h0M443.46 276.57h0M443.53 276.56h0M443.6 276.55h0M443.67 276.54h0M443.74 276.53h0M443.81 276.52h0M443.88 276.51h0M443.95 276.5h0M444.02 276.49h0M444.1 276.48h0M444.17 276.47h0M444.24 276.46h0M444.31 276.45h0M444.38 276.44h0M444.45 276.43h0M444.53 276.42h0M444.6 276.41h0M444.67 276.4h0M444.74 276.39h0M444.82 276.38h0M444.89 276.37h0M444.96 276.36h0M445.03 276.35h0M445.11 276.34h0M445.18 276.33h0M445.25 276.32h0M445.33 276.31h0M445.4 276.3h0M445.47 276.29h0M445.55 276.28h0M445.62 276.27h0M445.7 276.26h0M445.77 276.25h0M445.84 276.24h0M445.92 276.23h0M445.99 276.22h0M446.07 276.21h0M446.14 276.2h0M446.22 276.19h0M446.3 276.18h0M446.37 276.17h0M446.45 276.16h0M446.52 276.15h0M446.6 276.14h0M446.67 276.13h0M446.75 276.12h0M446.83 276.11h0M446.9 276.1h0M446.98 276.08h0M447.06 276.07h0M447.14 276.06h0M447.21 276.05h0M447.29 276.04h0M447.37 276.03h0M447.45 276.02h0M447.52 276.01h0M447.6 276h0M447.68 275.99h0M447.76 275.98h0M447.84 275.97h0M447.92 275.96h0M448 275.95h0M448.08 275.93h0M448.16 275.92h0M448.23 275.91h0M448.31 275.9h0M448.39 275.89h0M448.48 275.88h0M448.56 275.87h0M448.64 275.86h0M448.72 275.85h0M448.8 275.84h0M448.88 275.82h0M448.96 275.81h0M449.04 275.8h0M449.12 275.79h0M449.21 275.78h0M449.29 275.77h0M449.37 275.76h0M449.45 275.75h0M449.54 275.73h0M449.62 275.72h0M449.7 275.71h0M449.79 275.7h0M449.87 275.69h0M449.95 275.68h0M450.04 275.67h0M450.12 275.65h0M450.21 275.64h0M450.29 275.63h0M450.38 275.62h0M450.46 275.61h0M450.55 275.6h0M450.63 275.58h0M450.72 275.57h0M450.81 275.56h0M450.89 275.55h0M450.98 275.54h0M451.07 275.52h0M451.15 275.51h0M451.24 275.5h0M451.33 275.49h0M451.42 275.48h0M451.51 275.46h0M451.59 275.45h0M451.68 275.44h0M451.77 275.43h0M451.86 275.42h0M451.95 275.4h0M452.04 275.39h0M452.13 275.38h0M452.22 275.37h0M452.31 275.35h0M452.4 275.34h0M452.49 275.33h0M452.59 275.32h0M452.68 275.3h0M452.77 275.29h0M452.86 275.28h0M452.95 275.27h0M453.05 275.25h0M453.14 275.24h0M453.23 275.23h0M453.33 275.21h0M453.42 275.2h0M453.52 275.19h0M453.61 275.18h0M453.71 275.16h0M453.8 275.15h0M453.9 275.14h0M453.99 275.12h0M454.09 275.11h0M454.19 275.1h0M454.29 275.08h0M454.38 275.07h0M454.48 275.06h0M454.58 275.04h0M454.68 275.03h0M454.78 275.02h0M454.87 275h0M454.97 274.99h0M455.07 274.98h0M455.17 274.96h0M455.28 274.95h0M455.38 274.93h0M455.48 274.92h0M455.58 274.91h0M455.68 274.89h0M455.78 274.88h0M455.89 274.86h0M455.99 274.85h0M456.09 274.84h0M456.2 274.82h0M456.3 274.81h0M456.41 274.79h0M456.51 274.78h0M456.62 274.76h0M456.73 274.75h0M456.83 274.73h0M456.94 274.72h0M457.05 274.7h0M457.16 274.69h0M457.26 274.67h0M457.37 274.66h0M457.48 274.64h0M457.59 274.63h0M457.7 274.61h0M457.81 274.6h0M457.93 274.58h0M458.04 274.57h0M458.15 274.55h0M458.26 274.54h0M458.38 274.52h0M458.49 274.51h0M458.6 274.49h0M458.72 274.48h0M458.84 274.46h0M458.95 274.44h0M459.07 274.43h0M459.19 274.41h0M459.3 274.4h0M459.42 274.38h0M459.54 274.36h0M459.66 274.35h0M459.78 274.33h0M459.9 274.31h0M460.02 274.3h0M460.14 274.28h0M460.27 274.26h0M460.39 274.25h0M460.51 274.23h0M460.64 274.21h0M460.76 274.19h0M460.89 274.18h0M461.02 274.16h0M461.14 274.14h0M461.27 274.13h0M461.4 274.11h0M461.53 274.09h0M461.66 274.07h0M461.79 274.05h0M461.92 274.04h0M462.05 274.02h0M462.19 274h0M462.32 273.98h0M462.46 273.96h0M462.59 273.94h0M462.73 273.93h0M462.86 273.91h0M463 273.89h0M463.14 273.87h0M463.28 273.85h0M463.42 273.83h0M463.56 273.81h0M463.71 273.79h0M463.85 273.77h0M463.99 273.75h0M464.14 273.73h0M464.29 273.71h0M464.43 273.69h0M464.58 273.67h0M464.73 273.65h0M464.88 273.63h0M465.03 273.61h0M465.19 273.59h0M465.34 273.57h0M465.5 273.55h0M465.65 273.52h0M465.81 273.5h0M465.97 273.48h0M466.13 273.46h0M466.29 273.44h0M466.45 273.42h0M466.61 273.39h0M466.78 273.37h0M466.94 273.35h0M467.11 273.32h0M467.28 273.3h0M467.45 273.28h0M467.62 273.25h0M467.8 273.23h0M467.97 273.21h0M468.15 273.18h0M468.33 273.16h0M468.5 273.13h0M468.69 273.11h0M468.87 273.08h0M469.05 273.06h0M469.24 273.03h0M469.43 273.01h0M469.62 272.98h0M469.81 272.94h0M470 272.91h0M470.2 272.88h0M470.4 272.84h0M470.6 272.81h0M470.8 272.77h0M471 272.74h0M471.21 272.7h0M471.42 272.66h0M471.63 272.63h0M471.85 272.59h0M472.06 272.55h0M472.28 272.52h0M472.5 272.48h0M472.73 272.44h0M472.95 272.4h0M473.18 272.36h0M473.42 272.32h0M473.65 272.28h0M473.89 272.24h0M474.14 272.2h0M474.38 272.15h0M474.63 272.11h0M474.88 272.07h0M475.14 272.02h0M475.4 271.98h0M475.67 271.93h0M475.94 271.88h0M476.21 271.84h0M476.49 271.79h0M476.77 271.74h0M477.06 271.69h0M477.35 271.64h0M477.65 271.59h0M477.95 271.54h0M478.26 271.48h0M478.57 271.43h0M478.89 271.37h0M479.22 271.32h0M479.56 271.26h0M479.9 271.2h0M480.25 271.14h0M480.6 271.08h0M480.97 271.01h0M481.34 270.95h0M481.72 270.88h0M482.12 270.82h0M482.52 270.75h0M482.93 270.67h0M483.36 270.6h0M483.8 270.53h0M484.25 270.45h0M484.72 270.37h0M485.2 270.28h0M485.69 270.2h0M486.21 270.11h0M486.74 270.02h0M487.3 269.92h0M487.87 269.82h0M488.48 269.63h0M489.11 269.38h0M489.77 269.08h0M490.46 268.72h0M491.19 268.31h0M491.96 267.81h0M492.78 267.23h0M493.66 266.55h0M494.6 265.75h0M495.61 264.79h0M496.72 263.65h0M497.93 262.28h0" stroke="#565656" stroke-width="1.5" stroke-linecap="round" fill="none"/>
<path d="M315.48 327.96h0M325.34 315.4h0M330.26 313.98h0M333.65 311h0M337.35 309.43h0M340.74 301.58h0M343.2 300.01h0M344.12 296.87h0M499.36 256.36h0M525.54 193.56h0M515.99 213.66h0M511.06 239.41h0M507.98 240.66h0M505.52 246h0M503.36 247.26h0M500.9 251.65h0M499.66 253.07h0" stroke="#2a2a2a" stroke-width="1.9" stroke-linecap="round" fill="none"/>
<line x1="314.56" y1="299.2" x2="526.61" y2="261.37" stroke="#b00f1a" stroke-width="1.0" stroke-dasharray="3.8 2.0"/>
<path d="M296.3 185.4V342.6H543.4" stroke="#3a3a3a" stroke-width="1" fill="none"/>
<g font-family='"Liberation Serif", serif' font-size="5.3" fill="#111111" stroke="#111111" stroke-width="0.14">
<text x="291.8" y="344.7" text-anchor="end">-4</text>
<text x="291.8" y="329" text-anchor="end">-3</text>
<text x="291.8" y="313.3" text-anchor="end">-2</text>
<text x="291.8" y="297.6" text-anchor="end">-1</text>
<text x="291.8" y="281.9" text-anchor="end">0</text>
<text x="291.8" y="266.2" text-anchor="end">1</text>
<text x="291.8" y="250.5" text-anchor="end">2</text>
<text x="291.8" y="234.8" text-anchor="end">3</text>
<text x="291.8" y="219.1" text-anchor="end">4</text>
<text x="291.8" y="203.4" text-anchor="end">5</text>
<text x="291.8" y="187.7" text-anchor="end">6</text>
<text x="296.7" y="350.6" text-anchor="middle">-4</text>
<text x="327.5" y="350.6" text-anchor="middle">-3</text>
<text x="358.3" y="350.6" text-anchor="middle">-2</text>
<text x="389.1" y="350.6" text-anchor="middle">-1</text>
<text x="420.2" y="350.6" text-anchor="middle">0</text>
<text x="451" y="350.6" text-anchor="middle">1</text>
<text x="481.8" y="350.6" text-anchor="middle">2</text>
<text x="512.6" y="350.6" text-anchor="middle">3</text>
<text x="543.4" y="350.6" text-anchor="middle">4</text>
<text transform="translate(286.2,263.5) rotate(-90)" text-anchor="middle" font-size="5.6">Quantiles of Input Sample</text>
<text x="420.7" y="358.2" text-anchor="middle" font-size="5.5">Standard Normal Quantiles</text>
<text x="425.7" y="369.8" text-anchor="middle" font-size="6.2">(d)</text>
</g>
</g>
</svg>
</body>
</html>
